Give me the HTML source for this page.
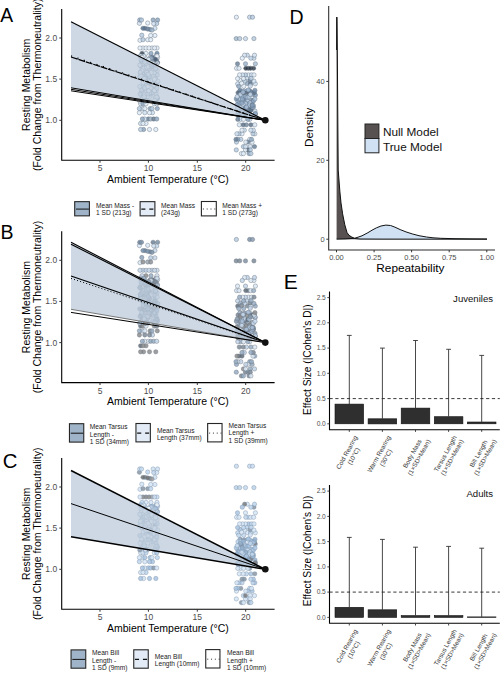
<!DOCTYPE html>
<html><head><meta charset="utf-8"><title>figure</title>
<style>html,body{margin:0;padding:0;background:#fff;width:502px;height:685px;overflow:hidden}svg{display:block}text{font-family:"Liberation Sans", sans-serif}</style>
</head><body><svg width="502" height="685" viewBox="0 0 502 685">
<rect width="502" height="685" fill="#fff"/>
<text x="0.3" y="21.9" font-size="19.3" fill="#000">A</text><text transform="translate(29.5,84.8) rotate(-90)" text-anchor="middle" font-size="10.5" fill="#000">Resting Metabolism</text><text transform="translate(40.9,84.8) rotate(-90)" text-anchor="middle" font-size="10.5" fill="#000">(Fold Change from Thermoneutrality)</text><g stroke="#5d6e82" stroke-width="0.5" stroke-opacity="0.85" fill-opacity="0.85"><circle cx="237.7" cy="83.8" r="2.15" fill="#d0dfee"/><circle cx="239.9" cy="92.7" r="2.15" fill="#8fa9c6"/><circle cx="148.3" cy="119.0" r="2.15" fill="#6d8299"/><circle cx="148.2" cy="84.5" r="2.15" fill="#e2ecf6"/><circle cx="237.9" cy="101.3" r="2.15" fill="#abc2db"/><circle cx="154.3" cy="85.2" r="2.15" fill="#e2ecf6"/><circle cx="241.4" cy="153.6" r="2.15" fill="#e2ecf6"/><circle cx="247.3" cy="55.2" r="2.15" fill="#c8d8e9"/><circle cx="142.1" cy="72.4" r="2.15" fill="#e2ecf6"/><circle cx="248.4" cy="90.5" r="2.15" fill="#7790ad"/><circle cx="141.9" cy="96.3" r="2.15" fill="#f2f6fb"/><circle cx="143.0" cy="48.0" r="2.15" fill="#e4edf7"/><circle cx="248.2" cy="68.3" r="2.15" fill="#333b45"/><circle cx="245.4" cy="99.0" r="2.15" fill="#7790ad"/><circle cx="240.3" cy="90.4" r="2.15" fill="#8fa9c6"/><circle cx="150.1" cy="57.5" r="2.15" fill="#f2f6fb"/><circle cx="141.5" cy="61.5" r="2.15" fill="#9fb3c8"/><circle cx="148.2" cy="65.4" r="2.15" fill="#9fb3c8"/><circle cx="243.4" cy="146.6" r="2.15" fill="#b7cbdf"/><circle cx="246.0" cy="97.4" r="2.15" fill="#8fa9c6"/><circle cx="246.4" cy="124.8" r="2.15" fill="#7d8fa3"/><circle cx="142.1" cy="68.4" r="2.15" fill="#f2f6fb"/><circle cx="237.8" cy="113.6" r="2.15" fill="#abc2db"/><circle cx="254.8" cy="133.8" r="2.15" fill="#e2ecf6"/><circle cx="147.7" cy="39.7" r="2.15" fill="#e2ecf6"/><circle cx="156.3" cy="55.7" r="2.15" fill="#f2f6fb"/><circle cx="149.5" cy="60.5" r="2.15" fill="#7f97b0"/><circle cx="250.3" cy="146.6" r="2.15" fill="#d0dfee"/><circle cx="152.7" cy="99.0" r="2.15" fill="#e2ecf6"/><circle cx="240.1" cy="95.2" r="2.15" fill="#7790ad"/><circle cx="142.4" cy="108.6" r="2.15" fill="#d0dfee"/><circle cx="250.7" cy="115.4" r="2.15" fill="#8fa9c6"/><circle cx="244.3" cy="130.2" r="2.15" fill="#d0dfee"/><circle cx="145.5" cy="78.5" r="2.15" fill="#e2ecf6"/><circle cx="140.6" cy="103.8" r="2.15" fill="#d0dfee"/><circle cx="247.6" cy="100.7" r="2.15" fill="#abc2db"/><circle cx="150.6" cy="94.2" r="2.15" fill="#9fb3c8"/><circle cx="248.6" cy="109.2" r="2.15" fill="#56687c"/><circle cx="247.4" cy="83.5" r="2.15" fill="#93a9c0"/><circle cx="244.6" cy="96.5" r="2.15" fill="#8fa9c6"/><circle cx="154.9" cy="35.5" r="2.15" fill="#e2ecf6"/><circle cx="243.7" cy="86.3" r="2.15" fill="#e2ecf6"/><circle cx="241.0" cy="99.5" r="2.15" fill="#abc2db"/><circle cx="146.0" cy="53.4" r="2.15" fill="#e2ecf6"/><circle cx="236.3" cy="149.9" r="2.15" fill="#b7cbdf"/><circle cx="250.9" cy="124.8" r="2.15" fill="#5f7186"/><circle cx="253.9" cy="38.6" r="2.15" fill="#b9cadc"/><circle cx="156.0" cy="94.0" r="2.15" fill="#f2f6fb"/><circle cx="143.2" cy="87.9" r="2.15" fill="#9fb3c8"/><circle cx="249.9" cy="111.3" r="2.15" fill="#7790ad"/><circle cx="255.3" cy="95.3" r="2.15" fill="#c9daec"/><circle cx="240.2" cy="99.0" r="2.15" fill="#c9daec"/><circle cx="254.5" cy="146.6" r="2.15" fill="#6d8299"/><circle cx="151.0" cy="53.4" r="2.15" fill="#8da5bf"/><circle cx="247.9" cy="149.9" r="2.15" fill="#3c4754"/><circle cx="255.3" cy="83.8" r="2.15" fill="#d0dfee"/><circle cx="255.0" cy="111.1" r="2.15" fill="#c9daec"/><circle cx="146.8" cy="72.4" r="2.15" fill="#e2ecf6"/><circle cx="239.8" cy="90.9" r="2.15" fill="#7790ad"/><circle cx="253.5" cy="107.0" r="2.15" fill="#abc2db"/><circle cx="157.5" cy="62.5" r="2.15" fill="#4e6278"/><circle cx="252.1" cy="142.1" r="2.15" fill="#e2ecf6"/><circle cx="243.2" cy="115.7" r="2.15" fill="#56687c"/><circle cx="142.2" cy="86.6" r="2.15" fill="#cbdaea"/><circle cx="247.8" cy="97.2" r="2.15" fill="#c9daec"/><circle cx="150.1" cy="29.5" r="2.15" fill="#8aa0b8"/><circle cx="150.7" cy="119.0" r="2.15" fill="#a8b8c8"/><circle cx="157.1" cy="70.7" r="2.15" fill="#f2f6fb"/><circle cx="150.1" cy="108.6" r="2.15" fill="#93a9c0"/><circle cx="143.9" cy="59.1" r="2.15" fill="#f2f6fb"/><circle cx="239.1" cy="103.3" r="2.15" fill="#8fa9c6"/><circle cx="246.7" cy="78.0" r="2.15" fill="#d0dfee"/><circle cx="150.7" cy="35.5" r="2.15" fill="#e2ecf6"/><circle cx="240.8" cy="139.4" r="2.15" fill="#b7cbdf"/><circle cx="144.8" cy="108.6" r="2.15" fill="#e2ecf6"/><circle cx="156.1" cy="90.6" r="2.15" fill="#e2ecf6"/><circle cx="154.5" cy="63.5" r="2.15" fill="#5a6f86"/><circle cx="238.0" cy="92.8" r="2.15" fill="#56687d"/><circle cx="245.5" cy="149.9" r="2.15" fill="#e2ecf6"/><circle cx="241.4" cy="107.3" r="2.15" fill="#abc2db"/><circle cx="140.4" cy="65.5" r="2.15" fill="#9fb3c8"/><circle cx="237.8" cy="139.4" r="2.15" fill="#93a9c0"/><circle cx="244.5" cy="103.2" r="2.15" fill="#abc2db"/><circle cx="157.3" cy="108.6" r="2.15" fill="#93a9c0"/><circle cx="139.4" cy="112.7" r="2.15" fill="#e2ecf6"/><circle cx="240.6" cy="119.4" r="2.15" fill="#d0dfee"/><circle cx="139.4" cy="23.3" r="2.15" fill="#d8e4f1"/><circle cx="154.8" cy="76.4" r="2.15" fill="#e2ecf6"/><circle cx="148.4" cy="75.2" r="2.15" fill="#f2f6fb"/><circle cx="156.6" cy="59.3" r="2.15" fill="#9fb3c8"/><circle cx="242.0" cy="133.8" r="2.15" fill="#e2ecf6"/><circle cx="246.0" cy="103.4" r="2.15" fill="#abc2db"/><circle cx="139.4" cy="108.6" r="2.15" fill="#b7cbdf"/><circle cx="147.5" cy="100.4" r="2.15" fill="#f2f6fb"/><circle cx="250.5" cy="110.1" r="2.15" fill="#abc2db"/><circle cx="146.7" cy="84.7" r="2.15" fill="#f2f6fb"/><circle cx="145.8" cy="63.6" r="2.15" fill="#f2f6fb"/><circle cx="154.3" cy="103.8" r="2.15" fill="#d0dfee"/><circle cx="149.7" cy="63.9" r="2.15" fill="#f2f6fb"/><circle cx="153.8" cy="90.6" r="2.15" fill="#e2ecf6"/><circle cx="245.5" cy="146.6" r="2.15" fill="#d0dfee"/><circle cx="241.5" cy="96.5" r="2.15" fill="#abc2db"/><circle cx="140.6" cy="72.5" r="2.15" fill="#9fb3c8"/><circle cx="157.3" cy="63.2" r="2.15" fill="#e2ecf6"/><circle cx="249.7" cy="119.4" r="2.15" fill="#d0dfee"/><circle cx="147.1" cy="87.8" r="2.15" fill="#cbdaea"/><circle cx="240.1" cy="80.5" r="2.15" fill="#e2ecf6"/><circle cx="150.7" cy="70.4" r="2.15" fill="#f2f6fb"/><circle cx="157.6" cy="20.0" r="2.15" fill="#93a9c0"/><circle cx="240.5" cy="111.5" r="2.15" fill="#7790ad"/><circle cx="246.4" cy="107.6" r="2.15" fill="#abc2db"/><circle cx="248.5" cy="74.9" r="2.15" fill="#e2ecf6"/><circle cx="241.1" cy="92.2" r="2.15" fill="#8fa9c6"/><circle cx="237.8" cy="119.4" r="2.15" fill="#6d8299"/><circle cx="252.0" cy="100.4" r="2.15" fill="#c9daec"/><circle cx="250.5" cy="84.0" r="2.15" fill="#6d8299"/><circle cx="153.1" cy="70.5" r="2.15" fill="#cbdaea"/><circle cx="144.8" cy="119.0" r="2.15" fill="#d0dfee"/><circle cx="155.6" cy="88.5" r="2.15" fill="#e2ecf6"/><circle cx="145.4" cy="95.0" r="2.15" fill="#f2f6fb"/><circle cx="245.5" cy="63.8" r="2.15" fill="#9fb4ca"/><circle cx="250.1" cy="80.6" r="2.15" fill="#6d8299"/><circle cx="157.0" cy="85.0" r="2.15" fill="#f2f6fb"/><circle cx="156.9" cy="96.9" r="2.15" fill="#e2ecf6"/><circle cx="244.6" cy="55.2" r="2.15" fill="#d5e2ef"/><circle cx="245.5" cy="109.8" r="2.15" fill="#7790ad"/><circle cx="154.9" cy="28.3" r="2.15" fill="#d0dfee"/><circle cx="155.4" cy="57.4" r="2.15" fill="#f2f6fb"/><circle cx="141.1" cy="56.1" r="2.15" fill="#f2f6fb"/><circle cx="153.7" cy="119.0" r="2.15" fill="#6f7f90"/><circle cx="250.4" cy="92.8" r="2.15" fill="#c9daec"/><circle cx="243.2" cy="104.8" r="2.15" fill="#c9daec"/><circle cx="154.1" cy="84.6" r="2.15" fill="#e2ecf6"/><circle cx="247.9" cy="119.4" r="2.15" fill="#93a9c0"/><circle cx="152.5" cy="112.7" r="2.15" fill="#d0dfee"/><circle cx="154.4" cy="81.2" r="2.15" fill="#f2f6fb"/><circle cx="250.0" cy="103.0" r="2.15" fill="#7790ad"/><circle cx="140.0" cy="40.3" r="2.15" fill="#e2ecf6"/><circle cx="237.6" cy="107.8" r="2.15" fill="#c9daec"/><circle cx="157.6" cy="57.2" r="2.15" fill="#f2f6fb"/><circle cx="237.7" cy="115.2" r="2.15" fill="#abc2db"/><circle cx="149.5" cy="112.7" r="2.15" fill="#e2ecf6"/><circle cx="148.5" cy="66.7" r="2.15" fill="#f2f6fb"/><circle cx="154.6" cy="63.4" r="2.15" fill="#f2f6fb"/><circle cx="244.3" cy="90.9" r="2.15" fill="#8fa9c6"/><circle cx="155.7" cy="61.8" r="2.15" fill="#f2f6fb"/><circle cx="244.0" cy="92.8" r="2.15" fill="#5a6c81"/><circle cx="157.2" cy="74.8" r="2.15" fill="#cbdaea"/><circle cx="156.1" cy="83.0" r="2.15" fill="#9fb3c8"/><circle cx="154.2" cy="63.2" r="2.15" fill="#e2ecf6"/><circle cx="241.0" cy="92.8" r="2.15" fill="#4e6076"/><circle cx="140.6" cy="123.5" r="2.15" fill="#d0dfee"/><circle cx="254.2" cy="92.3" r="2.15" fill="#c9daec"/><circle cx="150.7" cy="39.7" r="2.15" fill="#e2ecf6"/><circle cx="249.7" cy="139.4" r="2.15" fill="#e2ecf6"/><circle cx="252.7" cy="100.5" r="2.15" fill="#7790ad"/><circle cx="145.4" cy="92.7" r="2.15" fill="#e2ecf6"/><circle cx="251.0" cy="92.8" r="2.15" fill="#56687d"/><circle cx="250.1" cy="102.9" r="2.15" fill="#c9daec"/><circle cx="150.0" cy="59.1" r="2.15" fill="#e2ecf6"/><circle cx="146.8" cy="66.8" r="2.15" fill="#e2ecf6"/><circle cx="156.7" cy="23.6" r="2.15" fill="#b7cbdf"/><circle cx="237.5" cy="63.8" r="2.15" fill="#6f8399"/><circle cx="252.3" cy="105.5" r="2.15" fill="#56687c"/><circle cx="146.0" cy="123.5" r="2.15" fill="#e2ecf6"/><circle cx="141.3" cy="92.7" r="2.15" fill="#e2ecf6"/><circle cx="245.5" cy="74.9" r="2.15" fill="#b7cbdf"/><circle cx="143.6" cy="129.5" r="2.15" fill="#93a9c0"/><circle cx="236.5" cy="142.1" r="2.15" fill="#b7cbdf"/><circle cx="149.9" cy="59.5" r="2.15" fill="#e2ecf6"/><circle cx="244.8" cy="81.1" r="2.15" fill="#b7cbdf"/><circle cx="249.9" cy="90.9" r="2.15" fill="#7790ad"/><circle cx="147.6" cy="96.3" r="2.15" fill="#f2f6fb"/><circle cx="142.4" cy="79.0" r="2.15" fill="#e2ecf6"/><circle cx="153.1" cy="20.0" r="2.15" fill="#93a9c0"/><circle cx="147.4" cy="100.9" r="2.15" fill="#cbdaea"/><circle cx="154.3" cy="82.2" r="2.15" fill="#e2ecf6"/><circle cx="236.6" cy="68.3" r="2.15" fill="#e0eaf4"/><circle cx="140.2" cy="56.3" r="2.15" fill="#cbdaea"/><circle cx="146.5" cy="65.5" r="2.15" fill="#e2ecf6"/><circle cx="144.8" cy="112.7" r="2.15" fill="#d0dfee"/><circle cx="143.5" cy="82.3" r="2.15" fill="#f2f6fb"/><circle cx="149.5" cy="76.2" r="2.15" fill="#e2ecf6"/><circle cx="253.4" cy="101.1" r="2.15" fill="#8fa9c6"/><circle cx="250.6" cy="68.3" r="2.15" fill="#2e3640"/><circle cx="254.9" cy="94.6" r="2.15" fill="#8fa9c6"/><circle cx="142.0" cy="53.4" r="2.15" fill="#3c4754"/><circle cx="142.5" cy="92.7" r="2.15" fill="#cbdaea"/><circle cx="148.4" cy="68.8" r="2.15" fill="#e2ecf6"/><circle cx="150.7" cy="86.6" r="2.15" fill="#f2f6fb"/><circle cx="239.0" cy="68.3" r="2.15" fill="#e0eaf4"/><circle cx="253.9" cy="81.1" r="2.15" fill="#d0dfee"/><circle cx="139.8" cy="86.6" r="2.15" fill="#e2ecf6"/><circle cx="238.7" cy="86.3" r="2.15" fill="#93a9c0"/><circle cx="145.1" cy="58.0" r="2.15" fill="#f2f6fb"/><circle cx="140.1" cy="94.1" r="2.15" fill="#cbdaea"/><circle cx="249.6" cy="17.2" r="2.15" fill="#c5d5e6"/><circle cx="145.0" cy="28.3" r="2.15" fill="#5a6f88"/><circle cx="148.1" cy="80.7" r="2.15" fill="#e2ecf6"/><circle cx="143.0" cy="123.5" r="2.15" fill="#e2ecf6"/><circle cx="247.5" cy="92.8" r="2.15" fill="#4e6076"/><circle cx="253.9" cy="58.2" r="2.15" fill="#c8d8e9"/><circle cx="251.5" cy="74.9" r="2.15" fill="#d0dfee"/><circle cx="247.9" cy="142.1" r="2.15" fill="#6d8299"/><circle cx="142.0" cy="99.2" r="2.15" fill="#f2f6fb"/><circle cx="155.2" cy="79.0" r="2.15" fill="#f2f6fb"/><circle cx="140.0" cy="48.0" r="2.15" fill="#e8f0f8"/><circle cx="154.2" cy="72.7" r="2.15" fill="#e2ecf6"/><circle cx="254.0" cy="74.9" r="2.15" fill="#e2ecf6"/><circle cx="240.4" cy="94.5" r="2.15" fill="#c9daec"/><circle cx="152.9" cy="92.7" r="2.15" fill="#cbdaea"/><circle cx="239.0" cy="133.8" r="2.15" fill="#b7cbdf"/><circle cx="245.8" cy="68.3" r="2.15" fill="#2e3640"/><circle cx="236.3" cy="98.9" r="2.15" fill="#7790ad"/><circle cx="154.8" cy="90.8" r="2.15" fill="#f2f6fb"/><circle cx="236.9" cy="104.8" r="2.15" fill="#8fa9c6"/><circle cx="241.6" cy="83.2" r="2.15" fill="#e2ecf6"/><circle cx="249.6" cy="104.9" r="2.15" fill="#abc2db"/><circle cx="156.7" cy="119.0" r="2.15" fill="#93a9c0"/><circle cx="157.0" cy="48.0" r="2.15" fill="#e8f0f8"/><circle cx="157.1" cy="98.8" r="2.15" fill="#cbdaea"/><circle cx="255.4" cy="114.1" r="2.15" fill="#abc2db"/><circle cx="250.3" cy="85.9" r="2.15" fill="#d0dfee"/><circle cx="151.2" cy="72.4" r="2.15" fill="#f2f6fb"/><circle cx="237.6" cy="78.6" r="2.15" fill="#e2ecf6"/><circle cx="155.4" cy="78.9" r="2.15" fill="#e2ecf6"/><circle cx="251.5" cy="139.4" r="2.15" fill="#93a9c0"/><circle cx="245.4" cy="107.7" r="2.15" fill="#7790ad"/><circle cx="143.0" cy="39.7" r="2.15" fill="#b7cbdf"/><circle cx="251.0" cy="109.8" r="2.15" fill="#56687c"/><circle cx="146.3" cy="74.9" r="2.15" fill="#f2f6fb"/><circle cx="143.1" cy="82.8" r="2.15" fill="#f2f6fb"/><circle cx="142.3" cy="72.7" r="2.15" fill="#e2ecf6"/><circle cx="139.7" cy="100.9" r="2.15" fill="#f2f6fb"/><circle cx="242.0" cy="130.2" r="2.15" fill="#e2ecf6"/><circle cx="143.8" cy="96.3" r="2.15" fill="#f2f6fb"/><circle cx="149.7" cy="93.0" r="2.15" fill="#e2ecf6"/><circle cx="155.8" cy="69.2" r="2.15" fill="#e2ecf6"/><circle cx="143.0" cy="28.3" r="2.15" fill="#5d7590"/><circle cx="152.5" cy="57.5" r="2.15" fill="#50657c"/><circle cx="147.7" cy="23.0" r="2.15" fill="#e4edf7"/><circle cx="242.1" cy="100.9" r="2.15" fill="#abc2db"/><circle cx="236.4" cy="17.2" r="2.15" fill="#dfe9f4"/><circle cx="254.5" cy="55.2" r="2.15" fill="#d5e2ef"/><circle cx="141.1" cy="59.6" r="2.15" fill="#cbdaea"/><circle cx="243.5" cy="119.4" r="2.15" fill="#e2ecf6"/><circle cx="253.0" cy="133.8" r="2.15" fill="#b7cbdf"/><circle cx="141.6" cy="70.9" r="2.15" fill="#e2ecf6"/><circle cx="151.4" cy="88.2" r="2.15" fill="#f2f6fb"/><circle cx="144.7" cy="67.3" r="2.15" fill="#cbdaea"/><circle cx="243.4" cy="153.6" r="2.15" fill="#e2ecf6"/><circle cx="149.5" cy="129.5" r="2.15" fill="#e2ecf6"/><circle cx="253.6" cy="68.3" r="2.15" fill="#3a434e"/><circle cx="140.9" cy="55.9" r="2.15" fill="#f2f6fb"/><circle cx="146.0" cy="48.0" r="2.15" fill="#e8f0f8"/><circle cx="143.6" cy="68.5" r="2.15" fill="#f2f6fb"/><circle cx="155.8" cy="129.5" r="2.15" fill="#e2ecf6"/><circle cx="253.4" cy="105.4" r="2.15" fill="#c9daec"/><circle cx="154.3" cy="80.7" r="2.15" fill="#e2ecf6"/><circle cx="253.3" cy="130.2" r="2.15" fill="#d0dfee"/><circle cx="157.0" cy="53.4" r="2.15" fill="#6f87a2"/><circle cx="245.8" cy="109.5" r="2.15" fill="#8fa9c6"/><circle cx="149.3" cy="79.0" r="2.15" fill="#cbdaea"/><circle cx="245.6" cy="111.5" r="2.15" fill="#56687c"/><circle cx="147.1" cy="68.6" r="2.15" fill="#e2ecf6"/><circle cx="245.8" cy="142.1" r="2.15" fill="#e2ecf6"/><circle cx="156.1" cy="98.5" r="2.15" fill="#e2ecf6"/><circle cx="236.2" cy="38.6" r="2.15" fill="#a5b8cc"/><circle cx="147.7" cy="29.0" r="2.15" fill="#6c839c"/><circle cx="146.7" cy="67.4" r="2.15" fill="#e2ecf6"/><circle cx="139.7" cy="77.2" r="2.15" fill="#e2ecf6"/><circle cx="144.5" cy="94.5" r="2.15" fill="#f2f6fb"/><circle cx="248.2" cy="90.0" r="2.15" fill="#abc2db"/><circle cx="148.2" cy="87.0" r="2.15" fill="#f2f6fb"/><circle cx="250.3" cy="149.9" r="2.15" fill="#b7cbdf"/><circle cx="243.0" cy="92.2" r="2.15" fill="#abc2db"/><circle cx="153.5" cy="61.3" r="2.15" fill="#e2ecf6"/><circle cx="152.0" cy="108.6" r="2.15" fill="#b7cbdf"/><circle cx="140.6" cy="74.4" r="2.15" fill="#f2f6fb"/><circle cx="154.7" cy="65.1" r="2.15" fill="#cbdaea"/><circle cx="249.1" cy="153.6" r="2.15" fill="#93a9c0"/><circle cx="141.6" cy="57.4" r="2.15" fill="#f2f6fb"/><circle cx="242.3" cy="58.2" r="2.15" fill="#e0eaf4"/><circle cx="252.4" cy="94.3" r="2.15" fill="#8fa9c6"/><circle cx="150.3" cy="87.9" r="2.15" fill="#f2f6fb"/><circle cx="242.6" cy="74.9" r="2.15" fill="#d0dfee"/><circle cx="142.0" cy="70.6" r="2.15" fill="#e2ecf6"/><circle cx="252.0" cy="92.6" r="2.15" fill="#7790ad"/><circle cx="250.9" cy="130.2" r="2.15" fill="#d0dfee"/><circle cx="236.9" cy="133.8" r="2.15" fill="#d0dfee"/><circle cx="155.5" cy="68.5" r="2.15" fill="#cbdaea"/><circle cx="143.0" cy="103.8" r="2.15" fill="#93a9c0"/><circle cx="153.8" cy="59.4" r="2.15" fill="#9fb3c8"/><circle cx="150.0" cy="61.6" r="2.15" fill="#e2ecf6"/><circle cx="252.5" cy="107.1" r="2.15" fill="#8fa9c6"/><circle cx="252.3" cy="105.3" r="2.15" fill="#c9daec"/><circle cx="251.1" cy="78.4" r="2.15" fill="#b7cbdf"/><circle cx="239.3" cy="124.8" r="2.15" fill="#dce7f2"/><circle cx="255.4" cy="113.7" r="2.15" fill="#8fa9c6"/><circle cx="140.3" cy="72.3" r="2.15" fill="#e2ecf6"/><circle cx="242.3" cy="113.2" r="2.15" fill="#c9daec"/><circle cx="149.2" cy="76.4" r="2.15" fill="#cbdaea"/><circle cx="145.7" cy="76.5" r="2.15" fill="#9fb3c8"/><circle cx="148.3" cy="82.8" r="2.15" fill="#9fb3c8"/><circle cx="157.8" cy="81.3" r="2.15" fill="#e2ecf6"/><circle cx="141.7" cy="90.1" r="2.15" fill="#cbdaea"/><circle cx="239.7" cy="38.6" r="2.15" fill="#b9cadc"/><circle cx="254.0" cy="92.8" r="2.15" fill="#62748a"/><circle cx="144.7" cy="62.1" r="2.15" fill="#cbdaea"/><circle cx="157.0" cy="55.9" r="2.15" fill="#f2f6fb"/><circle cx="237.2" cy="96.7" r="2.15" fill="#c9daec"/><circle cx="249.1" cy="96.9" r="2.15" fill="#abc2db"/><circle cx="238.5" cy="115.5" r="2.15" fill="#8fa9c6"/><circle cx="241.8" cy="103.1" r="2.15" fill="#8fa9c6"/><circle cx="143.8" cy="56.1" r="2.15" fill="#e2ecf6"/><circle cx="250.3" cy="94.4" r="2.15" fill="#c9daec"/><circle cx="245.4" cy="113.4" r="2.15" fill="#7790ad"/><circle cx="252.5" cy="17.2" r="2.15" fill="#b9cbde"/><circle cx="152.0" cy="48.0" r="2.15" fill="#e8f0f8"/><circle cx="156.7" cy="103.8" r="2.15" fill="#e2ecf6"/><circle cx="148.6" cy="66.7" r="2.15" fill="#f2f6fb"/><circle cx="250.9" cy="153.6" r="2.15" fill="#b7cbdf"/><circle cx="243.6" cy="78.6" r="2.15" fill="#e2ecf6"/><circle cx="145.3" cy="101.1" r="2.15" fill="#f2f6fb"/><circle cx="255.0" cy="99.0" r="2.15" fill="#abc2db"/><circle cx="141.8" cy="35.2" r="2.15" fill="#b7cbdf"/><circle cx="252.2" cy="105.3" r="2.15" fill="#7790ad"/><circle cx="144.2" cy="96.8" r="2.15" fill="#e2ecf6"/><circle cx="151.4" cy="65.8" r="2.15" fill="#9fb3c8"/><circle cx="248.2" cy="111.2" r="2.15" fill="#abc2db"/><circle cx="236.0" cy="139.4" r="2.15" fill="#6d8299"/><circle cx="255.4" cy="63.8" r="2.15" fill="#aabed2"/><circle cx="144.2" cy="78.6" r="2.15" fill="#f2f6fb"/><circle cx="148.2" cy="74.3" r="2.15" fill="#e2ecf6"/><circle cx="142.0" cy="57.3" r="2.15" fill="#f2f6fb"/><circle cx="242.2" cy="98.9" r="2.15" fill="#8fa9c6"/><circle cx="150.6" cy="80.8" r="2.15" fill="#e2ecf6"/><circle cx="154.6" cy="48.0" r="2.15" fill="#e4edf7"/><circle cx="142.4" cy="119.0" r="2.15" fill="#93a9c0"/><circle cx="148.5" cy="81.2" r="2.15" fill="#e2ecf6"/><circle cx="149.0" cy="48.0" r="2.15" fill="#e4edf7"/><circle cx="154.5" cy="79.2" r="2.15" fill="#f2f6fb"/><circle cx="250.9" cy="58.2" r="2.15" fill="#c0d2e5"/><circle cx="147.8" cy="94.0" r="2.15" fill="#cbdaea"/><circle cx="146.0" cy="103.8" r="2.15" fill="#e2ecf6"/><circle cx="254.9" cy="90.3" r="2.15" fill="#7790ad"/><circle cx="157.4" cy="98.6" r="2.15" fill="#9fb3c8"/><circle cx="248.4" cy="115.4" r="2.15" fill="#abc2db"/><circle cx="155.5" cy="59.5" r="2.15" fill="#45586d"/><circle cx="155.7" cy="97.2" r="2.15" fill="#f2f6fb"/><circle cx="140.9" cy="76.3" r="2.15" fill="#e2ecf6"/><circle cx="145.8" cy="81.5" r="2.15" fill="#e2ecf6"/><circle cx="153.7" cy="23.6" r="2.15" fill="#d0dfee"/><circle cx="139.7" cy="65.2" r="2.15" fill="#f2f6fb"/><circle cx="248.8" cy="111.7" r="2.15" fill="#56687c"/><circle cx="145.6" cy="100.5" r="2.15" fill="#e2ecf6"/><circle cx="154.5" cy="90.5" r="2.15" fill="#f2f6fb"/><circle cx="156.8" cy="88.1" r="2.15" fill="#cbdaea"/><circle cx="139.7" cy="20.0" r="2.15" fill="#9fb4ca"/><circle cx="144.8" cy="87.9" r="2.15" fill="#e2ecf6"/><circle cx="140.6" cy="129.5" r="2.15" fill="#b7cbdf"/><circle cx="148.0" cy="86.7" r="2.15" fill="#f2f6fb"/><circle cx="156.9" cy="97.1" r="2.15" fill="#e2ecf6"/><circle cx="148.8" cy="90.8" r="2.15" fill="#f2f6fb"/><circle cx="245.5" cy="38.6" r="2.15" fill="#c9d7e6"/><circle cx="151.0" cy="58.1" r="2.15" fill="#9fb3c8"/><circle cx="153.9" cy="85.0" r="2.15" fill="#f2f6fb"/><circle cx="145.5" cy="101.0" r="2.15" fill="#e2ecf6"/><circle cx="239.6" cy="74.9" r="2.15" fill="#e2ecf6"/><circle cx="246.5" cy="107.1" r="2.15" fill="#abc2db"/><circle cx="254.8" cy="124.8" r="2.15" fill="#dce7f2"/><circle cx="141.5" cy="20.0" r="2.15" fill="#b5c8dc"/><circle cx="148.6" cy="59.4" r="2.15" fill="#e2ecf6"/><circle cx="152.0" cy="30.1" r="2.15" fill="#9db2c8"/><circle cx="154.9" cy="100.5" r="2.15" fill="#f2f6fb"/><circle cx="243.2" cy="124.8" r="2.15" fill="#5f7186"/></g><polygon points="71,21.7 265.3,120.3 71,88" fill="#bccbdb" fill-opacity="0.75"/><path d="M71 21.7 L265.3 120.3" stroke="#000" stroke-width="1.2" fill="none"/><path d="M71 57.0 L265.3 120.3" stroke="#000" stroke-width="1.2" fill="none" stroke-dasharray="7 0.8"/><path d="M71 55.9 L265.3 120.3" stroke="#000" stroke-width="1.2" fill="none" stroke-dasharray="1.2 5.5"/><path d="M71 87.8 L265.3 120.3" stroke="#000" stroke-width="1.0" fill="none"/><path d="M71 89.3 L265.3 120.3" stroke="#000" stroke-width="1.0" fill="none"/><path d="M71 90.8 L265.3 120.3" stroke="#000" stroke-width="1.0" fill="none"/><circle cx="265.3" cy="120.3" r="3.3" fill="#111"/><path d="M61.7 9.0 V160.3 H274.6" fill="none" stroke="#000" stroke-width="1.1"/><path d="M59.3 38.0 H61.7" stroke="#333" stroke-width="1"/><text x="57.2" y="41.0" text-anchor="end" font-size="8.5" fill="#4d4d4d">2.0</text><path d="M59.3 79.1 H61.7" stroke="#333" stroke-width="1"/><text x="57.2" y="82.1" text-anchor="end" font-size="8.5" fill="#4d4d4d">1.5</text><path d="M59.3 120.3 H61.7" stroke="#333" stroke-width="1"/><text x="57.2" y="123.3" text-anchor="end" font-size="8.5" fill="#4d4d4d">1.0</text><path d="M100 160.3 V162.7" stroke="#333" stroke-width="1"/><text x="100" y="171.3" text-anchor="middle" font-size="8.5" fill="#4d4d4d">5</text><path d="M148.4 160.3 V162.7" stroke="#333" stroke-width="1"/><text x="148.4" y="171.3" text-anchor="middle" font-size="8.5" fill="#4d4d4d">10</text><path d="M197.3 160.3 V162.7" stroke="#333" stroke-width="1"/><text x="197.3" y="171.3" text-anchor="middle" font-size="8.5" fill="#4d4d4d">15</text><path d="M245.7 160.3 V162.7" stroke="#333" stroke-width="1"/><text x="245.7" y="171.3" text-anchor="middle" font-size="8.5" fill="#4d4d4d">20</text><text x="167.9" y="182.7" text-anchor="middle" font-size="10.5" fill="#000">Ambient Temperature (°C)</text><rect x="74.7" y="201.65" width="14.7" height="14.2" fill="#a0b4c9" stroke="#262626" stroke-width="1.1"/><path d="M76.0 209.1 H88.9" stroke="#111" stroke-width="1.0"/><text font-size="6.6" fill="#1a1a1a"><tspan x="96" y="208.1">Mean Mass -</tspan><tspan x="96" y="215.4">1 SD (213g)</tspan></text><rect x="140.1" y="201.65" width="14.8" height="14.2" fill="#e3ecf6" stroke="#262626" stroke-width="1.1"/><path d="M141.29999999999998 209.1 H153.70000000000002" stroke="#111" stroke-width="1.2" stroke-dasharray="4.1 3.9"/><text font-size="6.6" fill="#1a1a1a"><tspan x="161" y="208.1">Mean Mass</tspan><tspan x="161" y="215.4">(243g)</tspan></text><rect x="201.4" y="201.5" width="14.9" height="14.4" fill="#ffffff" stroke="#262626" stroke-width="1.1"/><path d="M202.9 209.0 H216.3" stroke="#333" stroke-width="1.0" stroke-dasharray="1 2.8"/><text font-size="6.6" fill="#1a1a1a"><tspan x="222.3" y="208.1">Mean Mass +</tspan><tspan x="222.3" y="215.4">1 SD (273g)</tspan></text><text x="0.5" y="238.9" font-size="19.5" fill="#000">B</text><text transform="translate(29.5,307.1) rotate(-90)" text-anchor="middle" font-size="10.5" fill="#000">Resting Metabolism</text><text transform="translate(40.9,307.1) rotate(-90)" text-anchor="middle" font-size="10.5" fill="#000">(Fold Change from Thermoneutrality)</text><g stroke="#66727f" stroke-width="0.5" stroke-opacity="0.85" fill-opacity="0.85"><circle cx="237.7" cy="306.1" r="2.15" fill="#5f6b78"/><circle cx="239.9" cy="315.0" r="2.15" fill="#c9dbee"/><circle cx="148.3" cy="341.3" r="2.15" fill="#dbe7f3"/><circle cx="148.2" cy="306.8" r="2.15" fill="#8d8d8d"/><circle cx="237.9" cy="323.6" r="2.15" fill="#c9dbee"/><circle cx="154.3" cy="307.5" r="2.15" fill="#d3e1ef"/><circle cx="241.4" cy="375.9" r="2.15" fill="#7f8b97"/><circle cx="247.3" cy="277.5" r="2.15" fill="#c3d5e8"/><circle cx="142.1" cy="294.7" r="2.15" fill="#8fa0b2"/><circle cx="248.4" cy="312.8" r="2.15" fill="#c9dbee"/><circle cx="141.9" cy="318.6" r="2.15" fill="#8d8d8d"/><circle cx="143.0" cy="270.3" r="2.15" fill="#bcd0e6"/><circle cx="248.2" cy="290.6" r="2.15" fill="#7f8b97"/><circle cx="245.4" cy="321.3" r="2.15" fill="#5f6b78"/><circle cx="240.3" cy="312.7" r="2.15" fill="#8b9cae"/><circle cx="150.1" cy="279.8" r="2.15" fill="#8d8d8d"/><circle cx="141.5" cy="283.8" r="2.15" fill="#9fb5cc"/><circle cx="148.2" cy="287.7" r="2.15" fill="#d3e1ef"/><circle cx="243.4" cy="368.9" r="2.15" fill="#8d8d8d"/><circle cx="246.0" cy="319.7" r="2.15" fill="#8b9cae"/><circle cx="246.4" cy="347.1" r="2.15" fill="#c3d5e8"/><circle cx="142.1" cy="290.7" r="2.15" fill="#b9cce0"/><circle cx="237.8" cy="335.9" r="2.15" fill="#8d8d8d"/><circle cx="254.8" cy="356.1" r="2.15" fill="#98adc3"/><circle cx="147.7" cy="262.0" r="2.15" fill="#a0a8b0"/><circle cx="156.3" cy="278.0" r="2.15" fill="#8fa0b2"/><circle cx="149.5" cy="282.8" r="2.15" fill="#5f6b78"/><circle cx="250.3" cy="368.9" r="2.15" fill="#98adc3"/><circle cx="152.7" cy="321.3" r="2.15" fill="#9fb5cc"/><circle cx="240.1" cy="317.5" r="2.15" fill="#8b9cae"/><circle cx="142.4" cy="330.9" r="2.15" fill="#c3d5e8"/><circle cx="250.7" cy="337.7" r="2.15" fill="#5f6b78"/><circle cx="244.3" cy="352.5" r="2.15" fill="#c3d5e8"/><circle cx="145.5" cy="300.8" r="2.15" fill="#8fa0b2"/><circle cx="140.6" cy="326.1" r="2.15" fill="#5f6b78"/><circle cx="247.6" cy="323.0" r="2.15" fill="#8b9cae"/><circle cx="150.6" cy="316.5" r="2.15" fill="#d3e1ef"/><circle cx="248.6" cy="331.5" r="2.15" fill="#8d8d8d"/><circle cx="247.4" cy="305.8" r="2.15" fill="#7f8b97"/><circle cx="244.6" cy="318.8" r="2.15" fill="#c9dbee"/><circle cx="154.9" cy="257.8" r="2.15" fill="#c8d8e8"/><circle cx="243.7" cy="308.6" r="2.15" fill="#98adc3"/><circle cx="241.0" cy="321.8" r="2.15" fill="#c9dbee"/><circle cx="146.0" cy="275.7" r="2.15" fill="#8d8d8d"/><circle cx="236.3" cy="372.2" r="2.15" fill="#98adc3"/><circle cx="250.9" cy="347.1" r="2.15" fill="#98adc3"/><circle cx="253.9" cy="260.9" r="2.15" fill="#7f8b97"/><circle cx="156.0" cy="316.3" r="2.15" fill="#9fb5cc"/><circle cx="143.2" cy="310.2" r="2.15" fill="#8d8d8d"/><circle cx="249.9" cy="333.6" r="2.15" fill="#a9c0d8"/><circle cx="255.3" cy="317.6" r="2.15" fill="#a9c0d8"/><circle cx="240.2" cy="321.3" r="2.15" fill="#8b9cae"/><circle cx="254.5" cy="368.9" r="2.15" fill="#c3d5e8"/><circle cx="151.0" cy="275.7" r="2.15" fill="#98adc3"/><circle cx="247.9" cy="372.2" r="2.15" fill="#98adc3"/><circle cx="255.3" cy="306.1" r="2.15" fill="#98adc3"/><circle cx="255.0" cy="333.4" r="2.15" fill="#8b9cae"/><circle cx="146.8" cy="294.7" r="2.15" fill="#9fb5cc"/><circle cx="239.8" cy="313.2" r="2.15" fill="#c9dbee"/><circle cx="253.5" cy="329.3" r="2.15" fill="#5f6b78"/><circle cx="157.5" cy="284.8" r="2.15" fill="#c3d5e8"/><circle cx="252.1" cy="364.4" r="2.15" fill="#98adc3"/><circle cx="243.2" cy="338.0" r="2.15" fill="#a9c0d8"/><circle cx="142.2" cy="308.9" r="2.15" fill="#8d8d8d"/><circle cx="247.8" cy="319.5" r="2.15" fill="#5f6b78"/><circle cx="150.1" cy="251.8" r="2.15" fill="#6f87a0"/><circle cx="150.7" cy="341.3" r="2.15" fill="#98adc3"/><circle cx="157.1" cy="293.0" r="2.15" fill="#d3e1ef"/><circle cx="150.1" cy="330.9" r="2.15" fill="#8d8d8d"/><circle cx="143.9" cy="281.4" r="2.15" fill="#d3e1ef"/><circle cx="239.1" cy="325.6" r="2.15" fill="#8b9cae"/><circle cx="246.7" cy="300.3" r="2.15" fill="#c3d5e8"/><circle cx="150.7" cy="257.8" r="2.15" fill="#b8cbe0"/><circle cx="240.8" cy="361.7" r="2.15" fill="#c3d5e8"/><circle cx="144.8" cy="330.9" r="2.15" fill="#dbe7f3"/><circle cx="156.1" cy="312.9" r="2.15" fill="#d3e1ef"/><circle cx="154.5" cy="285.8" r="2.15" fill="#98adc3"/><circle cx="238.0" cy="315.1" r="2.15" fill="#7f8b97"/><circle cx="245.5" cy="372.2" r="2.15" fill="#7f8b97"/><circle cx="241.4" cy="329.6" r="2.15" fill="#c9dbee"/><circle cx="140.4" cy="287.8" r="2.15" fill="#9fb5cc"/><circle cx="237.8" cy="361.7" r="2.15" fill="#dbe7f3"/><circle cx="244.5" cy="325.5" r="2.15" fill="#a9c0d8"/><circle cx="157.3" cy="330.9" r="2.15" fill="#8d8d8d"/><circle cx="139.4" cy="335.0" r="2.15" fill="#8d8d8d"/><circle cx="240.6" cy="341.7" r="2.15" fill="#98adc3"/><circle cx="139.4" cy="245.6" r="2.15" fill="#d8e6f4"/><circle cx="154.8" cy="298.7" r="2.15" fill="#9fb5cc"/><circle cx="148.4" cy="297.5" r="2.15" fill="#9fb5cc"/><circle cx="156.6" cy="281.6" r="2.15" fill="#9fb5cc"/><circle cx="242.0" cy="356.1" r="2.15" fill="#5f6b78"/><circle cx="246.0" cy="325.7" r="2.15" fill="#8d8d8d"/><circle cx="139.4" cy="330.9" r="2.15" fill="#98adc3"/><circle cx="147.5" cy="322.7" r="2.15" fill="#9fb5cc"/><circle cx="250.5" cy="332.4" r="2.15" fill="#8b9cae"/><circle cx="146.7" cy="307.0" r="2.15" fill="#b9cce0"/><circle cx="145.8" cy="285.9" r="2.15" fill="#8fa0b2"/><circle cx="154.3" cy="326.1" r="2.15" fill="#8d8d8d"/><circle cx="149.7" cy="286.2" r="2.15" fill="#9fb5cc"/><circle cx="153.8" cy="312.9" r="2.15" fill="#8d8d8d"/><circle cx="245.5" cy="368.9" r="2.15" fill="#dbe7f3"/><circle cx="241.5" cy="318.8" r="2.15" fill="#a9c0d8"/><circle cx="140.6" cy="294.8" r="2.15" fill="#9fb5cc"/><circle cx="157.3" cy="285.5" r="2.15" fill="#b9cce0"/><circle cx="249.7" cy="341.7" r="2.15" fill="#dbe7f3"/><circle cx="147.1" cy="310.1" r="2.15" fill="#9fb5cc"/><circle cx="240.1" cy="302.8" r="2.15" fill="#98adc3"/><circle cx="150.7" cy="292.7" r="2.15" fill="#b9cce0"/><circle cx="157.6" cy="242.3" r="2.15" fill="#7d90a5"/><circle cx="240.5" cy="333.8" r="2.15" fill="#5f6b78"/><circle cx="246.4" cy="329.9" r="2.15" fill="#a9c0d8"/><circle cx="248.5" cy="297.2" r="2.15" fill="#dbe7f3"/><circle cx="241.1" cy="314.5" r="2.15" fill="#c9dbee"/><circle cx="237.8" cy="341.7" r="2.15" fill="#c3d5e8"/><circle cx="252.0" cy="322.7" r="2.15" fill="#8d8d8d"/><circle cx="250.5" cy="306.3" r="2.15" fill="#dbe7f3"/><circle cx="153.1" cy="292.8" r="2.15" fill="#b9cce0"/><circle cx="144.8" cy="341.3" r="2.15" fill="#dbe7f3"/><circle cx="155.6" cy="310.8" r="2.15" fill="#9fb5cc"/><circle cx="145.4" cy="317.3" r="2.15" fill="#b9cce0"/><circle cx="245.5" cy="286.1" r="2.15" fill="#c3d5e8"/><circle cx="250.1" cy="302.9" r="2.15" fill="#7f8b97"/><circle cx="157.0" cy="307.3" r="2.15" fill="#8d8d8d"/><circle cx="156.9" cy="319.2" r="2.15" fill="#8fa0b2"/><circle cx="244.6" cy="277.5" r="2.15" fill="#dbe7f3"/><circle cx="245.5" cy="332.1" r="2.15" fill="#a9c0d8"/><circle cx="154.9" cy="250.6" r="2.15" fill="#c8d8e8"/><circle cx="155.4" cy="279.7" r="2.15" fill="#d3e1ef"/><circle cx="141.1" cy="278.4" r="2.15" fill="#b9cce0"/><circle cx="153.7" cy="341.3" r="2.15" fill="#98adc3"/><circle cx="250.4" cy="315.1" r="2.15" fill="#a9c0d8"/><circle cx="243.2" cy="327.1" r="2.15" fill="#8d8d8d"/><circle cx="154.1" cy="306.9" r="2.15" fill="#9fb5cc"/><circle cx="247.9" cy="341.7" r="2.15" fill="#98adc3"/><circle cx="152.5" cy="335.0" r="2.15" fill="#c3d5e8"/><circle cx="154.4" cy="303.5" r="2.15" fill="#b9cce0"/><circle cx="250.0" cy="325.3" r="2.15" fill="#c9dbee"/><circle cx="140.0" cy="262.6" r="2.15" fill="#dbe7f3"/><circle cx="237.6" cy="330.1" r="2.15" fill="#8b9cae"/><circle cx="157.6" cy="279.5" r="2.15" fill="#d3e1ef"/><circle cx="237.7" cy="337.5" r="2.15" fill="#8d8d8d"/><circle cx="149.5" cy="335.0" r="2.15" fill="#7f8b97"/><circle cx="148.5" cy="289.0" r="2.15" fill="#d3e1ef"/><circle cx="154.6" cy="285.7" r="2.15" fill="#9fb5cc"/><circle cx="244.3" cy="313.2" r="2.15" fill="#8b9cae"/><circle cx="155.7" cy="284.1" r="2.15" fill="#d3e1ef"/><circle cx="244.0" cy="315.1" r="2.15" fill="#98adc3"/><circle cx="157.2" cy="297.1" r="2.15" fill="#d3e1ef"/><circle cx="156.1" cy="305.3" r="2.15" fill="#8fa0b2"/><circle cx="154.2" cy="285.5" r="2.15" fill="#d3e1ef"/><circle cx="241.0" cy="315.1" r="2.15" fill="#7f8b97"/><circle cx="140.6" cy="345.8" r="2.15" fill="#5f6b78"/><circle cx="254.2" cy="314.6" r="2.15" fill="#8d8d8d"/><circle cx="150.7" cy="262.0" r="2.15" fill="#8e9296"/><circle cx="249.7" cy="361.7" r="2.15" fill="#98adc3"/><circle cx="252.7" cy="322.8" r="2.15" fill="#c9dbee"/><circle cx="145.4" cy="315.0" r="2.15" fill="#b9cce0"/><circle cx="251.0" cy="315.1" r="2.15" fill="#8d8d8d"/><circle cx="250.1" cy="325.2" r="2.15" fill="#8d8d8d"/><circle cx="150.0" cy="281.4" r="2.15" fill="#d3e1ef"/><circle cx="146.8" cy="289.1" r="2.15" fill="#b9cce0"/><circle cx="156.7" cy="245.9" r="2.15" fill="#c8dbee"/><circle cx="237.5" cy="286.1" r="2.15" fill="#dbe7f3"/><circle cx="252.3" cy="327.8" r="2.15" fill="#8d8d8d"/><circle cx="146.0" cy="345.8" r="2.15" fill="#8d8d8d"/><circle cx="141.3" cy="315.0" r="2.15" fill="#9fb5cc"/><circle cx="245.5" cy="297.2" r="2.15" fill="#c3d5e8"/><circle cx="143.6" cy="351.8" r="2.15" fill="#8d8d8d"/><circle cx="236.5" cy="364.4" r="2.15" fill="#98adc3"/><circle cx="149.9" cy="281.8" r="2.15" fill="#b9cce0"/><circle cx="244.8" cy="303.4" r="2.15" fill="#c3d5e8"/><circle cx="249.9" cy="313.2" r="2.15" fill="#c9dbee"/><circle cx="147.6" cy="318.6" r="2.15" fill="#8fa0b2"/><circle cx="142.4" cy="301.3" r="2.15" fill="#9fb5cc"/><circle cx="153.1" cy="242.3" r="2.15" fill="#6f8398"/><circle cx="147.4" cy="323.2" r="2.15" fill="#8fa0b2"/><circle cx="154.3" cy="304.5" r="2.15" fill="#8d8d8d"/><circle cx="236.6" cy="290.6" r="2.15" fill="#dbe7f3"/><circle cx="140.2" cy="278.6" r="2.15" fill="#b9cce0"/><circle cx="146.5" cy="287.8" r="2.15" fill="#8fa0b2"/><circle cx="144.8" cy="335.0" r="2.15" fill="#7f8b97"/><circle cx="143.5" cy="304.6" r="2.15" fill="#b9cce0"/><circle cx="149.5" cy="298.5" r="2.15" fill="#9fb5cc"/><circle cx="253.4" cy="323.4" r="2.15" fill="#c9dbee"/><circle cx="250.6" cy="290.6" r="2.15" fill="#dbe7f3"/><circle cx="254.9" cy="316.9" r="2.15" fill="#c9dbee"/><circle cx="142.0" cy="275.7" r="2.15" fill="#c3d5e8"/><circle cx="142.5" cy="315.0" r="2.15" fill="#b9cce0"/><circle cx="148.4" cy="291.1" r="2.15" fill="#9fb5cc"/><circle cx="150.7" cy="308.9" r="2.15" fill="#8d8d8d"/><circle cx="239.0" cy="290.6" r="2.15" fill="#dbe7f3"/><circle cx="253.9" cy="303.4" r="2.15" fill="#98adc3"/><circle cx="139.8" cy="308.9" r="2.15" fill="#8fa0b2"/><circle cx="238.7" cy="308.6" r="2.15" fill="#98adc3"/><circle cx="145.1" cy="280.3" r="2.15" fill="#9fb5cc"/><circle cx="140.1" cy="316.4" r="2.15" fill="#8fa0b2"/><circle cx="249.6" cy="239.5" r="2.15" fill="#7f93a8"/><circle cx="145.0" cy="250.6" r="2.15" fill="#6f87a0"/><circle cx="148.1" cy="303.0" r="2.15" fill="#9fb5cc"/><circle cx="143.0" cy="345.8" r="2.15" fill="#8d8d8d"/><circle cx="247.5" cy="315.1" r="2.15" fill="#8d8d8d"/><circle cx="253.9" cy="280.5" r="2.15" fill="#dbe7f3"/><circle cx="251.5" cy="297.2" r="2.15" fill="#dbe7f3"/><circle cx="247.9" cy="364.4" r="2.15" fill="#dbe7f3"/><circle cx="142.0" cy="321.5" r="2.15" fill="#9fb5cc"/><circle cx="155.2" cy="301.3" r="2.15" fill="#8d8d8d"/><circle cx="140.0" cy="270.3" r="2.15" fill="#c4d6ea"/><circle cx="154.2" cy="295.0" r="2.15" fill="#b9cce0"/><circle cx="254.0" cy="297.2" r="2.15" fill="#7f8b97"/><circle cx="240.4" cy="316.8" r="2.15" fill="#8d8d8d"/><circle cx="152.9" cy="315.0" r="2.15" fill="#b9cce0"/><circle cx="239.0" cy="356.1" r="2.15" fill="#5f6b78"/><circle cx="245.8" cy="290.6" r="2.15" fill="#5f6b78"/><circle cx="236.3" cy="321.2" r="2.15" fill="#8b9cae"/><circle cx="154.8" cy="313.1" r="2.15" fill="#8fa0b2"/><circle cx="236.9" cy="327.1" r="2.15" fill="#8d8d8d"/><circle cx="241.6" cy="305.5" r="2.15" fill="#7f8b97"/><circle cx="249.6" cy="327.2" r="2.15" fill="#a9c0d8"/><circle cx="156.7" cy="341.3" r="2.15" fill="#c3d5e8"/><circle cx="157.0" cy="270.3" r="2.15" fill="#d0e0f0"/><circle cx="157.1" cy="321.1" r="2.15" fill="#d3e1ef"/><circle cx="255.4" cy="336.4" r="2.15" fill="#5f6b78"/><circle cx="250.3" cy="308.2" r="2.15" fill="#c3d5e8"/><circle cx="151.2" cy="294.7" r="2.15" fill="#d3e1ef"/><circle cx="237.6" cy="300.9" r="2.15" fill="#c3d5e8"/><circle cx="155.4" cy="301.2" r="2.15" fill="#d3e1ef"/><circle cx="251.5" cy="361.7" r="2.15" fill="#98adc3"/><circle cx="245.4" cy="330.0" r="2.15" fill="#a9c0d8"/><circle cx="143.0" cy="262.0" r="2.15" fill="#8e8e8e"/><circle cx="251.0" cy="332.1" r="2.15" fill="#a9c0d8"/><circle cx="146.3" cy="297.2" r="2.15" fill="#b9cce0"/><circle cx="143.1" cy="305.1" r="2.15" fill="#b9cce0"/><circle cx="142.3" cy="295.0" r="2.15" fill="#8fa0b2"/><circle cx="139.7" cy="323.2" r="2.15" fill="#b9cce0"/><circle cx="242.0" cy="352.5" r="2.15" fill="#98adc3"/><circle cx="143.8" cy="318.6" r="2.15" fill="#8fa0b2"/><circle cx="149.7" cy="315.3" r="2.15" fill="#8d8d8d"/><circle cx="155.8" cy="291.5" r="2.15" fill="#b9cce0"/><circle cx="143.0" cy="250.6" r="2.15" fill="#7890aa"/><circle cx="152.5" cy="279.8" r="2.15" fill="#5f6b78"/><circle cx="147.7" cy="245.3" r="2.15" fill="#d8e6f4"/><circle cx="242.1" cy="323.2" r="2.15" fill="#c9dbee"/><circle cx="236.4" cy="239.5" r="2.15" fill="#b9cde2"/><circle cx="254.5" cy="277.5" r="2.15" fill="#c3d5e8"/><circle cx="141.1" cy="281.9" r="2.15" fill="#b9cce0"/><circle cx="243.5" cy="341.7" r="2.15" fill="#dbe7f3"/><circle cx="253.0" cy="356.1" r="2.15" fill="#dbe7f3"/><circle cx="141.6" cy="293.2" r="2.15" fill="#8d8d8d"/><circle cx="151.4" cy="310.5" r="2.15" fill="#8fa0b2"/><circle cx="144.7" cy="289.6" r="2.15" fill="#d3e1ef"/><circle cx="243.4" cy="375.9" r="2.15" fill="#98adc3"/><circle cx="149.5" cy="351.8" r="2.15" fill="#8d8d8d"/><circle cx="253.6" cy="290.6" r="2.15" fill="#98adc3"/><circle cx="140.9" cy="278.2" r="2.15" fill="#d3e1ef"/><circle cx="146.0" cy="270.3" r="2.15" fill="#bcd0e6"/><circle cx="143.6" cy="290.8" r="2.15" fill="#b9cce0"/><circle cx="155.8" cy="351.8" r="2.15" fill="#8d8d8d"/><circle cx="253.4" cy="327.7" r="2.15" fill="#8b9cae"/><circle cx="154.3" cy="303.0" r="2.15" fill="#9fb5cc"/><circle cx="253.3" cy="352.5" r="2.15" fill="#7f8b97"/><circle cx="157.0" cy="275.7" r="2.15" fill="#dbe7f3"/><circle cx="245.8" cy="331.8" r="2.15" fill="#8b9cae"/><circle cx="149.3" cy="301.3" r="2.15" fill="#8fa0b2"/><circle cx="245.6" cy="333.8" r="2.15" fill="#8b9cae"/><circle cx="147.1" cy="290.9" r="2.15" fill="#b9cce0"/><circle cx="245.8" cy="364.4" r="2.15" fill="#c3d5e8"/><circle cx="156.1" cy="320.8" r="2.15" fill="#d3e1ef"/><circle cx="236.2" cy="260.9" r="2.15" fill="#7f8b97"/><circle cx="147.7" cy="251.3" r="2.15" fill="#7890aa"/><circle cx="146.7" cy="289.7" r="2.15" fill="#b9cce0"/><circle cx="139.7" cy="299.5" r="2.15" fill="#8fa0b2"/><circle cx="144.5" cy="316.8" r="2.15" fill="#b9cce0"/><circle cx="248.2" cy="312.3" r="2.15" fill="#a9c0d8"/><circle cx="148.2" cy="309.3" r="2.15" fill="#9fb5cc"/><circle cx="250.3" cy="372.2" r="2.15" fill="#7f8b97"/><circle cx="243.0" cy="314.5" r="2.15" fill="#c9dbee"/><circle cx="153.5" cy="283.6" r="2.15" fill="#8d8d8d"/><circle cx="152.0" cy="330.9" r="2.15" fill="#98adc3"/><circle cx="140.6" cy="296.7" r="2.15" fill="#b9cce0"/><circle cx="154.7" cy="287.4" r="2.15" fill="#b9cce0"/><circle cx="249.1" cy="375.9" r="2.15" fill="#7f8b97"/><circle cx="141.6" cy="279.7" r="2.15" fill="#8d8d8d"/><circle cx="242.3" cy="280.5" r="2.15" fill="#c3d5e8"/><circle cx="252.4" cy="316.6" r="2.15" fill="#a9c0d8"/><circle cx="150.3" cy="310.2" r="2.15" fill="#9fb5cc"/><circle cx="242.6" cy="297.2" r="2.15" fill="#dbe7f3"/><circle cx="142.0" cy="292.9" r="2.15" fill="#b9cce0"/><circle cx="252.0" cy="314.9" r="2.15" fill="#5f6b78"/><circle cx="250.9" cy="352.5" r="2.15" fill="#98adc3"/><circle cx="236.9" cy="356.1" r="2.15" fill="#8d8d8d"/><circle cx="155.5" cy="290.8" r="2.15" fill="#b9cce0"/><circle cx="143.0" cy="326.1" r="2.15" fill="#8d8d8d"/><circle cx="153.8" cy="281.7" r="2.15" fill="#8fa0b2"/><circle cx="150.0" cy="283.9" r="2.15" fill="#b9cce0"/><circle cx="252.5" cy="329.4" r="2.15" fill="#a9c0d8"/><circle cx="252.3" cy="327.6" r="2.15" fill="#8b9cae"/><circle cx="251.1" cy="300.7" r="2.15" fill="#98adc3"/><circle cx="239.3" cy="347.1" r="2.15" fill="#7f8b97"/><circle cx="255.4" cy="336.0" r="2.15" fill="#c9dbee"/><circle cx="140.3" cy="294.6" r="2.15" fill="#9fb5cc"/><circle cx="242.3" cy="335.5" r="2.15" fill="#a9c0d8"/><circle cx="149.2" cy="298.7" r="2.15" fill="#8fa0b2"/><circle cx="145.7" cy="298.8" r="2.15" fill="#b9cce0"/><circle cx="148.3" cy="305.1" r="2.15" fill="#8d8d8d"/><circle cx="157.8" cy="303.6" r="2.15" fill="#9fb5cc"/><circle cx="141.7" cy="312.4" r="2.15" fill="#b9cce0"/><circle cx="239.7" cy="260.9" r="2.15" fill="#7f8b97"/><circle cx="254.0" cy="315.1" r="2.15" fill="#dbe7f3"/><circle cx="144.7" cy="284.4" r="2.15" fill="#8fa0b2"/><circle cx="157.0" cy="278.2" r="2.15" fill="#d3e1ef"/><circle cx="237.2" cy="319.0" r="2.15" fill="#8b9cae"/><circle cx="249.1" cy="319.2" r="2.15" fill="#a9c0d8"/><circle cx="238.5" cy="337.8" r="2.15" fill="#8d8d8d"/><circle cx="241.8" cy="325.4" r="2.15" fill="#c9dbee"/><circle cx="143.8" cy="278.4" r="2.15" fill="#9fb5cc"/><circle cx="250.3" cy="316.7" r="2.15" fill="#8b9cae"/><circle cx="245.4" cy="335.7" r="2.15" fill="#c9dbee"/><circle cx="252.5" cy="239.5" r="2.15" fill="#8a9cb0"/><circle cx="152.0" cy="270.3" r="2.15" fill="#bcd0e6"/><circle cx="156.7" cy="326.1" r="2.15" fill="#7f8b97"/><circle cx="148.6" cy="289.0" r="2.15" fill="#b9cce0"/><circle cx="250.9" cy="375.9" r="2.15" fill="#dbe7f3"/><circle cx="243.6" cy="300.9" r="2.15" fill="#98adc3"/><circle cx="145.3" cy="323.4" r="2.15" fill="#8fa0b2"/><circle cx="255.0" cy="321.3" r="2.15" fill="#c9dbee"/><circle cx="141.8" cy="257.5" r="2.15" fill="#8da2b9"/><circle cx="252.2" cy="327.6" r="2.15" fill="#a9c0d8"/><circle cx="144.2" cy="319.1" r="2.15" fill="#d3e1ef"/><circle cx="151.4" cy="288.1" r="2.15" fill="#d3e1ef"/><circle cx="248.2" cy="333.5" r="2.15" fill="#a9c0d8"/><circle cx="236.0" cy="361.7" r="2.15" fill="#98adc3"/><circle cx="255.4" cy="286.1" r="2.15" fill="#dbe7f3"/><circle cx="144.2" cy="300.9" r="2.15" fill="#d3e1ef"/><circle cx="148.2" cy="296.6" r="2.15" fill="#9fb5cc"/><circle cx="142.0" cy="279.6" r="2.15" fill="#b9cce0"/><circle cx="242.2" cy="321.2" r="2.15" fill="#a9c0d8"/><circle cx="150.6" cy="303.1" r="2.15" fill="#b9cce0"/><circle cx="154.6" cy="270.3" r="2.15" fill="#c8d8ea"/><circle cx="142.4" cy="341.3" r="2.15" fill="#98adc3"/><circle cx="148.5" cy="303.5" r="2.15" fill="#b9cce0"/><circle cx="149.0" cy="270.3" r="2.15" fill="#c4d6ea"/><circle cx="154.5" cy="301.5" r="2.15" fill="#8fa0b2"/><circle cx="250.9" cy="280.5" r="2.15" fill="#dbe7f3"/><circle cx="147.8" cy="316.3" r="2.15" fill="#d3e1ef"/><circle cx="146.0" cy="326.1" r="2.15" fill="#dbe7f3"/><circle cx="254.9" cy="312.6" r="2.15" fill="#8d8d8d"/><circle cx="157.4" cy="320.9" r="2.15" fill="#9fb5cc"/><circle cx="248.4" cy="337.7" r="2.15" fill="#5f6b78"/><circle cx="155.5" cy="281.8" r="2.15" fill="#7f8b97"/><circle cx="155.7" cy="319.5" r="2.15" fill="#b9cce0"/><circle cx="140.9" cy="298.6" r="2.15" fill="#b9cce0"/><circle cx="145.8" cy="303.8" r="2.15" fill="#8fa0b2"/><circle cx="153.7" cy="245.9" r="2.15" fill="#d0e0f0"/><circle cx="139.7" cy="287.5" r="2.15" fill="#8fa0b2"/><circle cx="248.8" cy="334.0" r="2.15" fill="#a9c0d8"/><circle cx="145.6" cy="322.8" r="2.15" fill="#d3e1ef"/><circle cx="154.5" cy="312.8" r="2.15" fill="#b9cce0"/><circle cx="156.8" cy="310.4" r="2.15" fill="#9fb5cc"/><circle cx="139.7" cy="242.3" r="2.15" fill="#6f849c"/><circle cx="144.8" cy="310.2" r="2.15" fill="#8fa0b2"/><circle cx="140.6" cy="351.8" r="2.15" fill="#8d8d8d"/><circle cx="148.0" cy="309.0" r="2.15" fill="#9fb5cc"/><circle cx="156.9" cy="319.4" r="2.15" fill="#8fa0b2"/><circle cx="148.8" cy="313.1" r="2.15" fill="#9fb5cc"/><circle cx="245.5" cy="260.9" r="2.15" fill="#8390a0"/><circle cx="151.0" cy="280.4" r="2.15" fill="#d3e1ef"/><circle cx="153.9" cy="307.3" r="2.15" fill="#8d8d8d"/><circle cx="145.5" cy="323.3" r="2.15" fill="#8d8d8d"/><circle cx="239.6" cy="297.2" r="2.15" fill="#98adc3"/><circle cx="246.5" cy="329.4" r="2.15" fill="#a9c0d8"/><circle cx="254.8" cy="347.1" r="2.15" fill="#dbe7f3"/><circle cx="141.5" cy="242.3" r="2.15" fill="#7a8fa6"/><circle cx="148.6" cy="281.7" r="2.15" fill="#8fa0b2"/><circle cx="152.0" cy="252.4" r="2.15" fill="#7d93aa"/><circle cx="154.9" cy="322.8" r="2.15" fill="#b9cce0"/><circle cx="243.2" cy="347.1" r="2.15" fill="#7f8b97"/></g><polygon points="71,242.5 265.3,342.6 71,309.3" fill="#bccbdb" fill-opacity="0.75"/><path d="M71 242.3 L265.3 342.6" stroke="#000" stroke-width="1.1" fill="none"/><path d="M71 244.2 L265.3 342.6" stroke="#000" stroke-width="1.1" fill="none"/><path d="M71 275.9 L265.3 342.6" stroke="#000" stroke-width="1.1" fill="none"/><path d="M71 278.4 L265.3 342.6" stroke="#000" stroke-width="1.0" fill="none" stroke-dasharray="1 2.2"/><path d="M71 309.3 L265.3 342.6" stroke="#777" stroke-width="1.0" fill="none"/><path d="M71 312.4 L265.3 342.6" stroke="#000" stroke-width="1.0" fill="none"/><circle cx="265.3" cy="342.6" r="3.3" fill="#111"/><path d="M61.7 231.3 V382.6 H274.6" fill="none" stroke="#000" stroke-width="1.1"/><path d="M59.3 260.3 H61.7" stroke="#333" stroke-width="1"/><text x="57.2" y="263.3" text-anchor="end" font-size="8.5" fill="#4d4d4d">2.0</text><path d="M59.3 301.4 H61.7" stroke="#333" stroke-width="1"/><text x="57.2" y="304.4" text-anchor="end" font-size="8.5" fill="#4d4d4d">1.5</text><path d="M59.3 342.6 H61.7" stroke="#333" stroke-width="1"/><text x="57.2" y="345.6" text-anchor="end" font-size="8.5" fill="#4d4d4d">1.0</text><path d="M100 382.6 V385.0" stroke="#333" stroke-width="1"/><text x="100" y="393.6" text-anchor="middle" font-size="8.5" fill="#4d4d4d">5</text><path d="M148.4 382.6 V385.0" stroke="#333" stroke-width="1"/><text x="148.4" y="393.6" text-anchor="middle" font-size="8.5" fill="#4d4d4d">10</text><path d="M197.3 382.6 V385.0" stroke="#333" stroke-width="1"/><text x="197.3" y="393.6" text-anchor="middle" font-size="8.5" fill="#4d4d4d">15</text><path d="M245.7 382.6 V385.0" stroke="#333" stroke-width="1"/><text x="245.7" y="393.6" text-anchor="middle" font-size="8.5" fill="#4d4d4d">20</text><text x="167.9" y="405.0" text-anchor="middle" font-size="10.5" fill="#000">Ambient Temperature (°C)</text><rect x="69.45" y="423.7" width="14.3" height="18.4" fill="#a0b4c9" stroke="#262626" stroke-width="1.1"/><path d="M70.75 433.2 H83.25" stroke="#111" stroke-width="1.0"/><text font-size="6.6" fill="#1a1a1a"><tspan x="89.8" y="429.2">Mean Tarsus</tspan><tspan x="89.8" y="436.5">Length -</tspan><tspan x="89.8" y="443.8">1 SD (34mm)</tspan></text><rect x="135.95" y="423.5" width="14.4" height="18.4" fill="#e3ecf6" stroke="#262626" stroke-width="1.1"/><path d="M137.14999999999998 433.1 H149.15" stroke="#111" stroke-width="1.2" stroke-dasharray="4.1 3.9"/><text font-size="6.6" fill="#1a1a1a"><tspan x="156.9" y="432.7">Mean Tarsus</tspan><tspan x="156.9" y="440.0">Length (37mm)</tspan></text><rect x="207.65" y="423.5" width="14.4" height="18.4" fill="#ffffff" stroke="#262626" stroke-width="1.1"/><path d="M209.15 433.1 H222.05" stroke="#333" stroke-width="1.0" stroke-dasharray="1 2.8"/><text font-size="6.6" fill="#1a1a1a"><tspan x="228.6" y="428.1">Mean Tarsus</tspan><tspan x="228.6" y="435.4">Length +</tspan><tspan x="228.6" y="442.7">1 SD (39mm)</tspan></text><text x="2.7" y="468.0" font-size="20.3" fill="#000">C</text><text transform="translate(29.5,533.8) rotate(-90)" text-anchor="middle" font-size="10.5" fill="#000">Resting Metabolism</text><text transform="translate(40.9,533.8) rotate(-90)" text-anchor="middle" font-size="10.5" fill="#000">(Fold Change from Thermoneutrality)</text><g stroke="#7890aa" stroke-width="0.5" stroke-opacity="0.85" fill-opacity="0.85"><circle cx="237.7" cy="532.8" r="2.15" fill="#c0d6ec"/><circle cx="239.9" cy="541.7" r="2.15" fill="#a9c4e0"/><circle cx="148.3" cy="568.0" r="2.15" fill="#a9c4e0"/><circle cx="148.2" cy="533.5" r="2.15" fill="#eef4fa"/><circle cx="237.9" cy="550.3" r="2.15" fill="#93afcc"/><circle cx="154.3" cy="534.2" r="2.15" fill="#bcd1e6"/><circle cx="241.4" cy="602.6" r="2.15" fill="#8a96a2"/><circle cx="247.3" cy="504.2" r="2.15" fill="#d6e5f4"/><circle cx="142.1" cy="521.4" r="2.15" fill="#d9e7f4"/><circle cx="248.4" cy="539.5" r="2.15" fill="#a9c4e0"/><circle cx="141.9" cy="545.3" r="2.15" fill="#d9e7f4"/><circle cx="143.0" cy="497.0" r="2.15" fill="#8a8a8a"/><circle cx="248.2" cy="517.3" r="2.15" fill="#c0d6ec"/><circle cx="245.4" cy="548.0" r="2.15" fill="#a9c4e0"/><circle cx="240.3" cy="539.4" r="2.15" fill="#787878"/><circle cx="150.1" cy="506.5" r="2.15" fill="#d9e7f4"/><circle cx="141.5" cy="510.5" r="2.15" fill="#eef4fa"/><circle cx="148.2" cy="514.4" r="2.15" fill="#eef4fa"/><circle cx="243.4" cy="595.6" r="2.15" fill="#c0d6ec"/><circle cx="246.0" cy="546.4" r="2.15" fill="#c4d9ee"/><circle cx="246.4" cy="573.8" r="2.15" fill="#c0d6ec"/><circle cx="142.1" cy="517.4" r="2.15" fill="#d9e7f4"/><circle cx="237.8" cy="562.6" r="2.15" fill="#a9c4e0"/><circle cx="254.8" cy="582.8" r="2.15" fill="#a9c4e0"/><circle cx="147.7" cy="488.7" r="2.15" fill="#8a96a2"/><circle cx="156.3" cy="504.7" r="2.15" fill="#d9e7f4"/><circle cx="149.5" cy="509.5" r="2.15" fill="#a6c0dc"/><circle cx="250.3" cy="595.6" r="2.15" fill="#d6e5f4"/><circle cx="152.7" cy="548.0" r="2.15" fill="#eef4fa"/><circle cx="240.1" cy="544.2" r="2.15" fill="#787878"/><circle cx="142.4" cy="557.6" r="2.15" fill="#d6e5f4"/><circle cx="250.7" cy="564.4" r="2.15" fill="#c4d9ee"/><circle cx="244.3" cy="579.2" r="2.15" fill="#8a96a2"/><circle cx="145.5" cy="527.5" r="2.15" fill="#d9e7f4"/><circle cx="140.6" cy="552.8" r="2.15" fill="#d6e5f4"/><circle cx="247.6" cy="549.7" r="2.15" fill="#c4d9ee"/><circle cx="150.6" cy="543.2" r="2.15" fill="#eef4fa"/><circle cx="248.6" cy="558.2" r="2.15" fill="#c4d9ee"/><circle cx="247.4" cy="532.5" r="2.15" fill="#d6e5f4"/><circle cx="244.6" cy="545.5" r="2.15" fill="#a9c4e0"/><circle cx="154.9" cy="484.5" r="2.15" fill="#d6e5f4"/><circle cx="243.7" cy="535.3" r="2.15" fill="#c0d6ec"/><circle cx="241.0" cy="548.5" r="2.15" fill="#c4d9ee"/><circle cx="146.0" cy="502.4" r="2.15" fill="#d6e5f4"/><circle cx="236.3" cy="598.9" r="2.15" fill="#d6e5f4"/><circle cx="250.9" cy="573.8" r="2.15" fill="#a9c4e0"/><circle cx="253.9" cy="487.6" r="2.15" fill="#bcd2e8"/><circle cx="156.0" cy="543.0" r="2.15" fill="#d9e7f4"/><circle cx="143.2" cy="536.9" r="2.15" fill="#eef4fa"/><circle cx="249.9" cy="560.3" r="2.15" fill="#c4d9ee"/><circle cx="255.3" cy="544.3" r="2.15" fill="#c4d9ee"/><circle cx="240.2" cy="548.0" r="2.15" fill="#c4d9ee"/><circle cx="254.5" cy="595.6" r="2.15" fill="#d6e5f4"/><circle cx="151.0" cy="502.4" r="2.15" fill="#d6e5f4"/><circle cx="247.9" cy="598.9" r="2.15" fill="#d6e5f4"/><circle cx="255.3" cy="532.8" r="2.15" fill="#d6e5f4"/><circle cx="255.0" cy="560.1" r="2.15" fill="#93afcc"/><circle cx="146.8" cy="521.4" r="2.15" fill="#d9e7f4"/><circle cx="239.8" cy="539.9" r="2.15" fill="#a9c4e0"/><circle cx="253.5" cy="556.0" r="2.15" fill="#a9c4e0"/><circle cx="157.5" cy="511.5" r="2.15" fill="#b0c8e0"/><circle cx="252.1" cy="591.1" r="2.15" fill="#a9c4e0"/><circle cx="243.2" cy="564.7" r="2.15" fill="#c4d9ee"/><circle cx="142.2" cy="535.6" r="2.15" fill="#eef4fa"/><circle cx="247.8" cy="546.2" r="2.15" fill="#a9c4e0"/><circle cx="150.1" cy="478.5" r="2.15" fill="#777777"/><circle cx="150.7" cy="568.0" r="2.15" fill="#a9c4e0"/><circle cx="157.1" cy="519.7" r="2.15" fill="#eef4fa"/><circle cx="150.1" cy="557.6" r="2.15" fill="#a9c4e0"/><circle cx="143.9" cy="508.1" r="2.15" fill="#eef4fa"/><circle cx="239.1" cy="552.3" r="2.15" fill="#a9c4e0"/><circle cx="246.7" cy="527.0" r="2.15" fill="#c0d6ec"/><circle cx="150.7" cy="484.5" r="2.15" fill="#d6e5f4"/><circle cx="240.8" cy="588.4" r="2.15" fill="#8a96a2"/><circle cx="144.8" cy="557.6" r="2.15" fill="#a9c4e0"/><circle cx="156.1" cy="539.6" r="2.15" fill="#eef4fa"/><circle cx="154.5" cy="512.5" r="2.15" fill="#3f4b58"/><circle cx="238.0" cy="541.8" r="2.15" fill="#c0d6ec"/><circle cx="245.5" cy="598.9" r="2.15" fill="#d6e5f4"/><circle cx="241.4" cy="556.3" r="2.15" fill="#c4d9ee"/><circle cx="140.4" cy="514.5" r="2.15" fill="#d9e7f4"/><circle cx="237.8" cy="588.4" r="2.15" fill="#a9c4e0"/><circle cx="244.5" cy="552.2" r="2.15" fill="#a9c4e0"/><circle cx="157.3" cy="557.6" r="2.15" fill="#c0d6ec"/><circle cx="139.4" cy="561.7" r="2.15" fill="#c0d6ec"/><circle cx="240.6" cy="568.4" r="2.15" fill="#d6e5f4"/><circle cx="139.4" cy="472.3" r="2.15" fill="#8a96a2"/><circle cx="154.8" cy="525.4" r="2.15" fill="#8c9aa8"/><circle cx="148.4" cy="524.2" r="2.15" fill="#d9e7f4"/><circle cx="156.6" cy="508.3" r="2.15" fill="#eef4fa"/><circle cx="242.0" cy="582.8" r="2.15" fill="#c0d6ec"/><circle cx="246.0" cy="552.4" r="2.15" fill="#93afcc"/><circle cx="139.4" cy="557.6" r="2.15" fill="#d6e5f4"/><circle cx="147.5" cy="549.4" r="2.15" fill="#eef4fa"/><circle cx="250.5" cy="559.1" r="2.15" fill="#c4d9ee"/><circle cx="146.7" cy="533.7" r="2.15" fill="#d9e7f4"/><circle cx="145.8" cy="512.6" r="2.15" fill="#d9e7f4"/><circle cx="154.3" cy="552.8" r="2.15" fill="#d6e5f4"/><circle cx="149.7" cy="512.9" r="2.15" fill="#d9e7f4"/><circle cx="153.8" cy="539.6" r="2.15" fill="#d9e7f4"/><circle cx="245.5" cy="595.6" r="2.15" fill="#7a7a7a"/><circle cx="241.5" cy="545.5" r="2.15" fill="#8a96a2"/><circle cx="140.6" cy="521.5" r="2.15" fill="#eef4fa"/><circle cx="157.3" cy="512.2" r="2.15" fill="#bcd1e6"/><circle cx="249.7" cy="568.4" r="2.15" fill="#8a96a2"/><circle cx="147.1" cy="536.8" r="2.15" fill="#bcd1e6"/><circle cx="240.1" cy="529.5" r="2.15" fill="#a9c4e0"/><circle cx="150.7" cy="519.4" r="2.15" fill="#d9e7f4"/><circle cx="157.6" cy="469.0" r="2.15" fill="#cfe0f1"/><circle cx="240.5" cy="560.5" r="2.15" fill="#8a96a2"/><circle cx="246.4" cy="556.6" r="2.15" fill="#a9c4e0"/><circle cx="248.5" cy="523.9" r="2.15" fill="#a9c4e0"/><circle cx="241.1" cy="541.2" r="2.15" fill="#c4d9ee"/><circle cx="237.8" cy="568.4" r="2.15" fill="#d6e5f4"/><circle cx="252.0" cy="549.4" r="2.15" fill="#c4d9ee"/><circle cx="250.5" cy="533.0" r="2.15" fill="#c0d6ec"/><circle cx="153.1" cy="519.5" r="2.15" fill="#d9e7f4"/><circle cx="144.8" cy="568.0" r="2.15" fill="#d6e5f4"/><circle cx="155.6" cy="537.5" r="2.15" fill="#eef4fa"/><circle cx="145.4" cy="544.0" r="2.15" fill="#bcd1e6"/><circle cx="245.5" cy="512.8" r="2.15" fill="#d6e5f4"/><circle cx="250.1" cy="529.6" r="2.15" fill="#8a96a2"/><circle cx="157.0" cy="534.0" r="2.15" fill="#d9e7f4"/><circle cx="156.9" cy="545.9" r="2.15" fill="#d9e7f4"/><circle cx="244.6" cy="504.2" r="2.15" fill="#7a7a7a"/><circle cx="245.5" cy="558.8" r="2.15" fill="#93afcc"/><circle cx="154.9" cy="477.3" r="2.15" fill="#d0e0f0"/><circle cx="155.4" cy="506.4" r="2.15" fill="#bcd1e6"/><circle cx="141.1" cy="505.1" r="2.15" fill="#eef4fa"/><circle cx="153.7" cy="568.0" r="2.15" fill="#8a96a2"/><circle cx="250.4" cy="541.8" r="2.15" fill="#8a96a2"/><circle cx="243.2" cy="553.8" r="2.15" fill="#c4d9ee"/><circle cx="154.1" cy="533.6" r="2.15" fill="#eef4fa"/><circle cx="247.9" cy="568.4" r="2.15" fill="#d6e5f4"/><circle cx="152.5" cy="561.7" r="2.15" fill="#a9c4e0"/><circle cx="154.4" cy="530.2" r="2.15" fill="#bcd1e6"/><circle cx="250.0" cy="552.0" r="2.15" fill="#c4d9ee"/><circle cx="140.0" cy="489.3" r="2.15" fill="#d6e5f4"/><circle cx="237.6" cy="556.8" r="2.15" fill="#a9c4e0"/><circle cx="157.6" cy="506.2" r="2.15" fill="#bcd1e6"/><circle cx="237.7" cy="564.2" r="2.15" fill="#93afcc"/><circle cx="149.5" cy="561.7" r="2.15" fill="#a9c4e0"/><circle cx="148.5" cy="515.7" r="2.15" fill="#8c9aa8"/><circle cx="154.6" cy="512.4" r="2.15" fill="#d9e7f4"/><circle cx="244.3" cy="539.9" r="2.15" fill="#8a96a2"/><circle cx="155.7" cy="510.8" r="2.15" fill="#eef4fa"/><circle cx="244.0" cy="541.8" r="2.15" fill="#d6e5f4"/><circle cx="157.2" cy="523.8" r="2.15" fill="#bcd1e6"/><circle cx="156.1" cy="532.0" r="2.15" fill="#d9e7f4"/><circle cx="154.2" cy="512.2" r="2.15" fill="#eef4fa"/><circle cx="241.0" cy="541.8" r="2.15" fill="#d6e5f4"/><circle cx="140.6" cy="572.5" r="2.15" fill="#d6e5f4"/><circle cx="254.2" cy="541.3" r="2.15" fill="#a9c4e0"/><circle cx="150.7" cy="488.7" r="2.15" fill="#c0d6ec"/><circle cx="249.7" cy="588.4" r="2.15" fill="#c0d6ec"/><circle cx="252.7" cy="549.5" r="2.15" fill="#c4d9ee"/><circle cx="145.4" cy="541.7" r="2.15" fill="#eef4fa"/><circle cx="251.0" cy="541.8" r="2.15" fill="#d6e5f4"/><circle cx="250.1" cy="551.9" r="2.15" fill="#c4d9ee"/><circle cx="150.0" cy="508.1" r="2.15" fill="#eef4fa"/><circle cx="146.8" cy="515.8" r="2.15" fill="#eef4fa"/><circle cx="156.7" cy="472.6" r="2.15" fill="#d6e5f4"/><circle cx="237.5" cy="512.8" r="2.15" fill="#a9c4e0"/><circle cx="252.3" cy="554.5" r="2.15" fill="#a9c4e0"/><circle cx="146.0" cy="572.5" r="2.15" fill="#c0d6ec"/><circle cx="141.3" cy="541.7" r="2.15" fill="#d9e7f4"/><circle cx="245.5" cy="523.9" r="2.15" fill="#d6e5f4"/><circle cx="143.6" cy="578.5" r="2.15" fill="#d6e5f4"/><circle cx="236.5" cy="591.1" r="2.15" fill="#d6e5f4"/><circle cx="149.9" cy="508.5" r="2.15" fill="#eef4fa"/><circle cx="244.8" cy="530.1" r="2.15" fill="#d6e5f4"/><circle cx="249.9" cy="539.9" r="2.15" fill="#c4d9ee"/><circle cx="147.6" cy="545.3" r="2.15" fill="#eef4fa"/><circle cx="142.4" cy="528.0" r="2.15" fill="#bcd1e6"/><circle cx="153.1" cy="469.0" r="2.15" fill="#cfe0f1"/><circle cx="147.4" cy="549.9" r="2.15" fill="#d9e7f4"/><circle cx="154.3" cy="531.2" r="2.15" fill="#eef4fa"/><circle cx="236.6" cy="517.3" r="2.15" fill="#d6e5f4"/><circle cx="140.2" cy="505.3" r="2.15" fill="#d9e7f4"/><circle cx="146.5" cy="514.5" r="2.15" fill="#eef4fa"/><circle cx="144.8" cy="561.7" r="2.15" fill="#d6e5f4"/><circle cx="143.5" cy="531.3" r="2.15" fill="#eef4fa"/><circle cx="149.5" cy="525.2" r="2.15" fill="#8c9aa8"/><circle cx="253.4" cy="550.1" r="2.15" fill="#a9c4e0"/><circle cx="250.6" cy="517.3" r="2.15" fill="#d6e5f4"/><circle cx="254.9" cy="543.6" r="2.15" fill="#787878"/><circle cx="142.0" cy="502.4" r="2.15" fill="#c0d6ec"/><circle cx="142.5" cy="541.7" r="2.15" fill="#bcd1e6"/><circle cx="148.4" cy="517.8" r="2.15" fill="#eef4fa"/><circle cx="150.7" cy="535.6" r="2.15" fill="#bcd1e6"/><circle cx="239.0" cy="517.3" r="2.15" fill="#d6e5f4"/><circle cx="253.9" cy="530.1" r="2.15" fill="#d6e5f4"/><circle cx="139.8" cy="535.6" r="2.15" fill="#bcd1e6"/><circle cx="238.7" cy="535.3" r="2.15" fill="#c0d6ec"/><circle cx="145.1" cy="507.0" r="2.15" fill="#bcd1e6"/><circle cx="140.1" cy="543.1" r="2.15" fill="#eef4fa"/><circle cx="249.6" cy="466.2" r="2.15" fill="#c9dbee"/><circle cx="145.0" cy="477.3" r="2.15" fill="#747474"/><circle cx="148.1" cy="529.7" r="2.15" fill="#d9e7f4"/><circle cx="143.0" cy="572.5" r="2.15" fill="#d6e5f4"/><circle cx="247.5" cy="541.8" r="2.15" fill="#d6e5f4"/><circle cx="253.9" cy="507.2" r="2.15" fill="#8a96a2"/><circle cx="251.5" cy="523.9" r="2.15" fill="#c0d6ec"/><circle cx="247.9" cy="591.1" r="2.15" fill="#a9c4e0"/><circle cx="142.0" cy="548.2" r="2.15" fill="#eef4fa"/><circle cx="155.2" cy="528.0" r="2.15" fill="#d9e7f4"/><circle cx="140.0" cy="497.0" r="2.15" fill="#d8e6f4"/><circle cx="154.2" cy="521.7" r="2.15" fill="#d9e7f4"/><circle cx="254.0" cy="523.9" r="2.15" fill="#d6e5f4"/><circle cx="240.4" cy="543.5" r="2.15" fill="#93afcc"/><circle cx="152.9" cy="541.7" r="2.15" fill="#bcd1e6"/><circle cx="239.0" cy="582.8" r="2.15" fill="#a9c4e0"/><circle cx="245.8" cy="517.3" r="2.15" fill="#c0d6ec"/><circle cx="236.3" cy="547.9" r="2.15" fill="#a9c4e0"/><circle cx="154.8" cy="539.8" r="2.15" fill="#eef4fa"/><circle cx="236.9" cy="553.8" r="2.15" fill="#93afcc"/><circle cx="241.6" cy="532.2" r="2.15" fill="#d6e5f4"/><circle cx="249.6" cy="553.9" r="2.15" fill="#c4d9ee"/><circle cx="156.7" cy="568.0" r="2.15" fill="#d6e5f4"/><circle cx="157.0" cy="497.0" r="2.15" fill="#c9dbee"/><circle cx="157.1" cy="547.8" r="2.15" fill="#eef4fa"/><circle cx="255.4" cy="563.1" r="2.15" fill="#a9c4e0"/><circle cx="250.3" cy="534.9" r="2.15" fill="#d6e5f4"/><circle cx="151.2" cy="521.4" r="2.15" fill="#eef4fa"/><circle cx="237.6" cy="527.6" r="2.15" fill="#a9c4e0"/><circle cx="155.4" cy="527.9" r="2.15" fill="#eef4fa"/><circle cx="251.5" cy="588.4" r="2.15" fill="#d6e5f4"/><circle cx="245.4" cy="556.7" r="2.15" fill="#a9c4e0"/><circle cx="143.0" cy="488.7" r="2.15" fill="#8a96a2"/><circle cx="251.0" cy="558.8" r="2.15" fill="#787878"/><circle cx="146.3" cy="523.9" r="2.15" fill="#d9e7f4"/><circle cx="143.1" cy="531.8" r="2.15" fill="#eef4fa"/><circle cx="142.3" cy="521.7" r="2.15" fill="#bcd1e6"/><circle cx="139.7" cy="549.9" r="2.15" fill="#8c9aa8"/><circle cx="242.0" cy="579.2" r="2.15" fill="#8a96a2"/><circle cx="143.8" cy="545.3" r="2.15" fill="#d9e7f4"/><circle cx="149.7" cy="542.0" r="2.15" fill="#eef4fa"/><circle cx="155.8" cy="518.2" r="2.15" fill="#d9e7f4"/><circle cx="143.0" cy="477.3" r="2.15" fill="#6e6e6e"/><circle cx="152.5" cy="506.5" r="2.15" fill="#a6c0dc"/><circle cx="147.7" cy="472.0" r="2.15" fill="#c0d6ec"/><circle cx="242.1" cy="549.9" r="2.15" fill="#a9c4e0"/><circle cx="236.4" cy="466.2" r="2.15" fill="#c9dbee"/><circle cx="254.5" cy="504.2" r="2.15" fill="#c0d6ec"/><circle cx="141.1" cy="508.6" r="2.15" fill="#d9e7f4"/><circle cx="243.5" cy="568.4" r="2.15" fill="#d6e5f4"/><circle cx="253.0" cy="582.8" r="2.15" fill="#c0d6ec"/><circle cx="141.6" cy="519.9" r="2.15" fill="#bcd1e6"/><circle cx="151.4" cy="537.2" r="2.15" fill="#eef4fa"/><circle cx="144.7" cy="516.3" r="2.15" fill="#eef4fa"/><circle cx="243.4" cy="602.6" r="2.15" fill="#d6e5f4"/><circle cx="149.5" cy="578.5" r="2.15" fill="#a9c4e0"/><circle cx="253.6" cy="517.3" r="2.15" fill="#d6e5f4"/><circle cx="140.9" cy="504.9" r="2.15" fill="#bcd1e6"/><circle cx="146.0" cy="497.0" r="2.15" fill="#858585"/><circle cx="143.6" cy="517.5" r="2.15" fill="#bcd1e6"/><circle cx="155.8" cy="578.5" r="2.15" fill="#a9c4e0"/><circle cx="253.4" cy="554.4" r="2.15" fill="#c4d9ee"/><circle cx="154.3" cy="529.7" r="2.15" fill="#d9e7f4"/><circle cx="253.3" cy="579.2" r="2.15" fill="#a9c4e0"/><circle cx="157.0" cy="502.4" r="2.15" fill="#d6e5f4"/><circle cx="245.8" cy="558.5" r="2.15" fill="#a9c4e0"/><circle cx="149.3" cy="528.0" r="2.15" fill="#bcd1e6"/><circle cx="245.6" cy="560.5" r="2.15" fill="#787878"/><circle cx="147.1" cy="517.6" r="2.15" fill="#eef4fa"/><circle cx="245.8" cy="591.1" r="2.15" fill="#d6e5f4"/><circle cx="156.1" cy="547.5" r="2.15" fill="#eef4fa"/><circle cx="236.2" cy="487.6" r="2.15" fill="#bcd2e8"/><circle cx="147.7" cy="478.0" r="2.15" fill="#6e6e6e"/><circle cx="146.7" cy="516.4" r="2.15" fill="#eef4fa"/><circle cx="139.7" cy="526.2" r="2.15" fill="#bcd1e6"/><circle cx="144.5" cy="543.5" r="2.15" fill="#d9e7f4"/><circle cx="248.2" cy="539.0" r="2.15" fill="#a9c4e0"/><circle cx="148.2" cy="536.0" r="2.15" fill="#bcd1e6"/><circle cx="250.3" cy="598.9" r="2.15" fill="#d6e5f4"/><circle cx="243.0" cy="541.2" r="2.15" fill="#93afcc"/><circle cx="153.5" cy="510.3" r="2.15" fill="#eef4fa"/><circle cx="152.0" cy="557.6" r="2.15" fill="#d6e5f4"/><circle cx="140.6" cy="523.4" r="2.15" fill="#eef4fa"/><circle cx="154.7" cy="514.1" r="2.15" fill="#bcd1e6"/><circle cx="249.1" cy="602.6" r="2.15" fill="#8a96a2"/><circle cx="141.6" cy="506.4" r="2.15" fill="#eef4fa"/><circle cx="242.3" cy="507.2" r="2.15" fill="#a9c4e0"/><circle cx="252.4" cy="543.3" r="2.15" fill="#c4d9ee"/><circle cx="150.3" cy="536.9" r="2.15" fill="#eef4fa"/><circle cx="242.6" cy="523.9" r="2.15" fill="#d6e5f4"/><circle cx="142.0" cy="519.6" r="2.15" fill="#bcd1e6"/><circle cx="252.0" cy="541.6" r="2.15" fill="#a9c4e0"/><circle cx="250.9" cy="579.2" r="2.15" fill="#c0d6ec"/><circle cx="236.9" cy="582.8" r="2.15" fill="#d6e5f4"/><circle cx="155.5" cy="517.5" r="2.15" fill="#eef4fa"/><circle cx="143.0" cy="552.8" r="2.15" fill="#d6e5f4"/><circle cx="153.8" cy="508.4" r="2.15" fill="#eef4fa"/><circle cx="150.0" cy="510.6" r="2.15" fill="#eef4fa"/><circle cx="252.5" cy="556.1" r="2.15" fill="#a9c4e0"/><circle cx="252.3" cy="554.3" r="2.15" fill="#93afcc"/><circle cx="251.1" cy="527.4" r="2.15" fill="#c0d6ec"/><circle cx="239.3" cy="573.8" r="2.15" fill="#d6e5f4"/><circle cx="255.4" cy="562.7" r="2.15" fill="#787878"/><circle cx="140.3" cy="521.3" r="2.15" fill="#eef4fa"/><circle cx="242.3" cy="562.2" r="2.15" fill="#a9c4e0"/><circle cx="149.2" cy="525.4" r="2.15" fill="#eef4fa"/><circle cx="145.7" cy="525.5" r="2.15" fill="#eef4fa"/><circle cx="148.3" cy="531.8" r="2.15" fill="#8c9aa8"/><circle cx="157.8" cy="530.3" r="2.15" fill="#d9e7f4"/><circle cx="141.7" cy="539.1" r="2.15" fill="#eef4fa"/><circle cx="239.7" cy="487.6" r="2.15" fill="#bcd2e8"/><circle cx="254.0" cy="541.8" r="2.15" fill="#a9c4e0"/><circle cx="144.7" cy="511.1" r="2.15" fill="#eef4fa"/><circle cx="157.0" cy="504.9" r="2.15" fill="#eef4fa"/><circle cx="237.2" cy="545.7" r="2.15" fill="#c4d9ee"/><circle cx="249.1" cy="545.9" r="2.15" fill="#a9c4e0"/><circle cx="238.5" cy="564.5" r="2.15" fill="#a9c4e0"/><circle cx="241.8" cy="552.1" r="2.15" fill="#c4d9ee"/><circle cx="143.8" cy="505.1" r="2.15" fill="#d9e7f4"/><circle cx="250.3" cy="543.4" r="2.15" fill="#c4d9ee"/><circle cx="245.4" cy="562.4" r="2.15" fill="#a9c4e0"/><circle cx="252.5" cy="466.2" r="2.15" fill="#c9dbee"/><circle cx="152.0" cy="497.0" r="2.15" fill="#a8a8a8"/><circle cx="156.7" cy="552.8" r="2.15" fill="#a9c4e0"/><circle cx="148.6" cy="515.7" r="2.15" fill="#bcd1e6"/><circle cx="250.9" cy="602.6" r="2.15" fill="#c0d6ec"/><circle cx="243.6" cy="527.6" r="2.15" fill="#c0d6ec"/><circle cx="145.3" cy="550.1" r="2.15" fill="#eef4fa"/><circle cx="255.0" cy="548.0" r="2.15" fill="#a9c4e0"/><circle cx="141.8" cy="484.2" r="2.15" fill="#d6e5f4"/><circle cx="252.2" cy="554.3" r="2.15" fill="#c4d9ee"/><circle cx="144.2" cy="545.8" r="2.15" fill="#d9e7f4"/><circle cx="151.4" cy="514.8" r="2.15" fill="#eef4fa"/><circle cx="248.2" cy="560.2" r="2.15" fill="#a9c4e0"/><circle cx="236.0" cy="588.4" r="2.15" fill="#a9c4e0"/><circle cx="255.4" cy="512.8" r="2.15" fill="#d6e5f4"/><circle cx="144.2" cy="527.6" r="2.15" fill="#d9e7f4"/><circle cx="148.2" cy="523.3" r="2.15" fill="#eef4fa"/><circle cx="142.0" cy="506.3" r="2.15" fill="#eef4fa"/><circle cx="242.2" cy="547.9" r="2.15" fill="#93afcc"/><circle cx="150.6" cy="529.8" r="2.15" fill="#8c9aa8"/><circle cx="154.6" cy="497.0" r="2.15" fill="#c9dbee"/><circle cx="142.4" cy="568.0" r="2.15" fill="#a9c4e0"/><circle cx="148.5" cy="530.2" r="2.15" fill="#eef4fa"/><circle cx="149.0" cy="497.0" r="2.15" fill="#8a8a8a"/><circle cx="154.5" cy="528.2" r="2.15" fill="#eef4fa"/><circle cx="250.9" cy="507.2" r="2.15" fill="#c0d6ec"/><circle cx="147.8" cy="543.0" r="2.15" fill="#eef4fa"/><circle cx="146.0" cy="552.8" r="2.15" fill="#c0d6ec"/><circle cx="254.9" cy="539.3" r="2.15" fill="#93afcc"/><circle cx="157.4" cy="547.6" r="2.15" fill="#bcd1e6"/><circle cx="248.4" cy="564.4" r="2.15" fill="#93afcc"/><circle cx="155.5" cy="508.5" r="2.15" fill="#a6c0dc"/><circle cx="155.7" cy="546.2" r="2.15" fill="#eef4fa"/><circle cx="140.9" cy="525.3" r="2.15" fill="#d9e7f4"/><circle cx="145.8" cy="530.5" r="2.15" fill="#d9e7f4"/><circle cx="153.7" cy="472.6" r="2.15" fill="#c0d6ec"/><circle cx="139.7" cy="514.2" r="2.15" fill="#d9e7f4"/><circle cx="248.8" cy="560.7" r="2.15" fill="#93afcc"/><circle cx="145.6" cy="549.5" r="2.15" fill="#bcd1e6"/><circle cx="154.5" cy="539.5" r="2.15" fill="#d9e7f4"/><circle cx="156.8" cy="537.1" r="2.15" fill="#bcd1e6"/><circle cx="139.7" cy="469.0" r="2.15" fill="#c6d9ed"/><circle cx="144.8" cy="536.9" r="2.15" fill="#eef4fa"/><circle cx="140.6" cy="578.5" r="2.15" fill="#a9c4e0"/><circle cx="148.0" cy="535.7" r="2.15" fill="#eef4fa"/><circle cx="156.9" cy="546.1" r="2.15" fill="#bcd1e6"/><circle cx="148.8" cy="539.8" r="2.15" fill="#bcd1e6"/><circle cx="245.5" cy="487.6" r="2.15" fill="#c4d8ec"/><circle cx="151.0" cy="507.1" r="2.15" fill="#bcd1e6"/><circle cx="153.9" cy="534.0" r="2.15" fill="#d9e7f4"/><circle cx="145.5" cy="550.0" r="2.15" fill="#d9e7f4"/><circle cx="239.6" cy="523.9" r="2.15" fill="#d6e5f4"/><circle cx="246.5" cy="556.1" r="2.15" fill="#a9c4e0"/><circle cx="254.8" cy="573.8" r="2.15" fill="#8a96a2"/><circle cx="141.5" cy="469.0" r="2.15" fill="#c6d9ed"/><circle cx="148.6" cy="508.4" r="2.15" fill="#eef4fa"/><circle cx="152.0" cy="479.1" r="2.15" fill="#9a9a9a"/><circle cx="154.9" cy="549.5" r="2.15" fill="#bcd1e6"/><circle cx="243.2" cy="573.8" r="2.15" fill="#d6e5f4"/></g><polygon points="71,470.5 265.3,569.3 71,536.8" fill="#bccbdb" fill-opacity="0.75"/><path d="M71 470.5 L265.3 569.3" stroke="#000" stroke-width="1.5" fill="none"/><path d="M71 503.6 L265.3 569.3" stroke="#000" stroke-width="1.0" fill="none"/><path d="M71 536.8 L265.3 569.3" stroke="#000" stroke-width="1.5" fill="none"/><circle cx="265.3" cy="569.3" r="3.3" fill="#111"/><path d="M61.7 458.0 V609.3 H274.6" fill="none" stroke="#000" stroke-width="1.1"/><path d="M59.3 487.0 H61.7" stroke="#333" stroke-width="1"/><text x="57.2" y="490.0" text-anchor="end" font-size="8.5" fill="#4d4d4d">2.0</text><path d="M59.3 528.1 H61.7" stroke="#333" stroke-width="1"/><text x="57.2" y="531.1" text-anchor="end" font-size="8.5" fill="#4d4d4d">1.5</text><path d="M59.3 569.3 H61.7" stroke="#333" stroke-width="1"/><text x="57.2" y="572.3" text-anchor="end" font-size="8.5" fill="#4d4d4d">1.0</text><path d="M100 609.3 V611.7" stroke="#333" stroke-width="1"/><text x="100" y="620.3" text-anchor="middle" font-size="8.5" fill="#4d4d4d">5</text><path d="M148.4 609.3 V611.7" stroke="#333" stroke-width="1"/><text x="148.4" y="620.3" text-anchor="middle" font-size="8.5" fill="#4d4d4d">10</text><path d="M197.3 609.3 V611.7" stroke="#333" stroke-width="1"/><text x="197.3" y="620.3" text-anchor="middle" font-size="8.5" fill="#4d4d4d">15</text><path d="M245.7 609.3 V611.7" stroke="#333" stroke-width="1"/><text x="245.7" y="620.3" text-anchor="middle" font-size="8.5" fill="#4d4d4d">20</text><text x="167.9" y="631.7" text-anchor="middle" font-size="10.5" fill="#000">Ambient Temperature (°C)</text><rect x="71.05" y="649.9" width="14.7" height="18.3" fill="#a0b4c9" stroke="#262626" stroke-width="1.1"/><path d="M72.35 659.4 H85.25" stroke="#111" stroke-width="1.0"/><text font-size="6.6" fill="#1a1a1a"><tspan x="92" y="655.3">Mean Bill</tspan><tspan x="92" y="662.6">Length -</tspan><tspan x="92" y="669.9">1 SD (9mm)</tspan></text><rect x="133.75" y="649.8" width="14.5" height="18.4" fill="#e3ecf6" stroke="#262626" stroke-width="1.1"/><path d="M134.95 659.4 H147.05" stroke="#111" stroke-width="1.2" stroke-dasharray="4.1 3.9"/><text font-size="6.6" fill="#1a1a1a"><tspan x="154.8" y="659.0">Mean Bill</tspan><tspan x="154.8" y="666.3">Length (10mm)</tspan></text><rect x="205.75" y="649.6" width="14.2" height="18.4" fill="#ffffff" stroke="#262626" stroke-width="1.1"/><path d="M207.25 659.2 H219.95" stroke="#333" stroke-width="1.0" stroke-dasharray="1 2.8"/><text font-size="6.6" fill="#1a1a1a"><tspan x="226.9" y="655.3">Mean Bill</tspan><tspan x="226.9" y="662.6">Length +</tspan><tspan x="226.9" y="669.9">1 SD (10mm)</tspan></text><text x="289.4" y="24.0" font-size="19.5" fill="#000">D</text><path d="M336.6 239.1 L345 238.9 L350 238.6 L354.8 238.2 L358 237.2 L362 235.8 L367.9 232.7 L372 230.2 L376.3 227.9 L381 226.0 L385.9 225.1 L390.6 225.5 L395 227.2 L400.2 229.6 L406 231.9 L412.2 233.9 L419 235.7 L426.5 237 L433 237.8 L440.8 238.3 L455 238.7 L470 238.9 L487 239.0 L487 239.2 L336.6 239.2 Z" fill="#cfe1f3"/><path d="M336.6 239.2 L336.6 50 L336.7 17 L337.0 17.5 L337.3 50 L337.9 130 L338.2 170 L339.9 191.9 L341 202.9 L342.6 213.8 L344.8 224.8 L347 232.5 L349 235.3 L351.4 236.8 L354.7 238.5 L360 239.0 L380 239.1 L487 239.2 L487 239.2 Z" fill="#575151"/><path d="M336.6 50 L336.7 17 L337.0 17.5 L337.3 50 L337.9 130 L338.2 170 L339.9 191.9 L341 202.9 L342.6 213.8 L344.8 224.8 L347 232.5 L349 235.3 L351.4 236.8 L354.7 238.5 L360 239.0 L380 239.1 L487 239.2" fill="none" stroke="#111" stroke-width="1"/><path d="M336.6 239.1 L345 238.9 L350 238.6 L354.8 238.2 L358 237.2 L362 235.8 L367.9 232.7 L372 230.2 L376.3 227.9 L381 226.0 L385.9 225.1 L390.6 225.5 L395 227.2 L400.2 229.6 L406 231.9 L412.2 233.9 L419 235.7 L426.5 237 L433 237.8 L440.8 238.3 L455 238.7 L470 238.9 L487 239.0" fill="none" stroke="#111" stroke-width="1"/><path d="M328.7 6 V250 H495" fill="none" stroke="#2a2a2a" stroke-width="1.05"/><path d="M326.3 239.2 H328.6" stroke="#333" stroke-width="1"/><text x="324.7" y="241.5" text-anchor="end" font-size="7.5" fill="#4d4d4d">0</text><path d="M326.3 160.3 H328.6" stroke="#333" stroke-width="1"/><text x="324.7" y="162.6" text-anchor="end" font-size="7.5" fill="#4d4d4d">20</text><path d="M326.3 81.4 H328.6" stroke="#333" stroke-width="1"/><text x="324.7" y="83.7" text-anchor="end" font-size="7.5" fill="#4d4d4d">40</text><path d="M336.5 250 V252.3" stroke="#333" stroke-width="1"/><text x="336.5" y="259.8" text-anchor="middle" font-size="7.5" fill="#4d4d4d">0.00</text><path d="M374.1 250 V252.3" stroke="#333" stroke-width="1"/><text x="374.1" y="259.8" text-anchor="middle" font-size="7.5" fill="#4d4d4d">0.25</text><path d="M411.6 250 V252.3" stroke="#333" stroke-width="1"/><text x="411.6" y="259.8" text-anchor="middle" font-size="7.5" fill="#4d4d4d">0.50</text><path d="M449.2 250 V252.3" stroke="#333" stroke-width="1"/><text x="449.2" y="259.8" text-anchor="middle" font-size="7.5" fill="#4d4d4d">0.75</text><path d="M486.8 250 V252.3" stroke="#333" stroke-width="1"/><text x="486.8" y="259.8" text-anchor="middle" font-size="7.5" fill="#4d4d4d">1.00</text><text x="410.4" y="271.8" text-anchor="middle" font-size="11.8" fill="#000">Repeatability</text><text transform="translate(312.7,127.3) rotate(-90)" text-anchor="middle" font-size="11.8" fill="#000">Density</text><rect x="365" y="124" width="13.9" height="14.5" fill="#575151" stroke="#222" stroke-width="1"/><rect x="365" y="138.5" width="13.9" height="14.3" fill="#cfe1f3" stroke="#222" stroke-width="1"/><text x="382.9" y="135.6" font-size="11.8" fill="#111">Null Model</text><text x="382.9" y="151.0" font-size="11.8" fill="#111">True Model</text><text x="283.8" y="288.7" font-size="19.5" fill="#000" transform="translate(283.8,0) scale(1.08,1) translate(-283.8,0)">E</text><rect x="335.0" y="404.1" width="28.6" height="19.7" fill="#2f2f2f" stroke="#111" stroke-width="0.6"/><path d="M349.3 335.4 V404.1 M346.9 335.4 H351.7" stroke="#333" stroke-width="0.9" fill="none"/><rect x="368.1" y="418.8" width="28.6" height="5.1" fill="#2f2f2f" stroke="#111" stroke-width="0.6"/><path d="M382.4 348.1 V418.8 M380.0 348.1 H384.8" stroke="#333" stroke-width="0.9" fill="none"/><rect x="401.2" y="408.1" width="28.6" height="15.7" fill="#2f2f2f" stroke="#111" stroke-width="0.6"/><path d="M415.5 340.5 V408.1 M413.1 340.5 H417.9" stroke="#333" stroke-width="0.9" fill="none"/><rect x="434.3" y="416.7" width="28.6" height="7.1" fill="#2f2f2f" stroke="#111" stroke-width="0.6"/><path d="M448.6 349.3 V416.7 M446.2 349.3 H451.0" stroke="#333" stroke-width="0.9" fill="none"/><rect x="467.4" y="422.0" width="28.6" height="1.8" fill="#2f2f2f" stroke="#111" stroke-width="0.6"/><path d="M481.7 355.4 V422.0 M479.3 355.4 H484.1" stroke="#333" stroke-width="0.9" fill="none"/><path d="M329.5 398.6 H499.8" stroke="#222" stroke-width="0.9" stroke-dasharray="3.2 2.6"/><path d="M329.5 291.5 V429.7 H499.8" fill="none" stroke="#000" stroke-width="1.1"/><path d="M327.3 423.8 H329.5" stroke="#333" stroke-width="0.9"/><text x="325.8" y="426.0" text-anchor="end" font-size="6.6" fill="#4d4d4d">0.0</text><path d="M327.3 398.6 H329.5" stroke="#333" stroke-width="0.9"/><text x="325.8" y="400.8" text-anchor="end" font-size="6.6" fill="#4d4d4d">0.5</text><path d="M327.3 373.3 H329.5" stroke="#333" stroke-width="0.9"/><text x="325.8" y="375.5" text-anchor="end" font-size="6.6" fill="#4d4d4d">1.0</text><path d="M327.3 348.1 H329.5" stroke="#333" stroke-width="0.9"/><text x="325.8" y="350.2" text-anchor="end" font-size="6.6" fill="#4d4d4d">1.5</text><path d="M327.3 322.8 H329.5" stroke="#333" stroke-width="0.9"/><text x="325.8" y="325.0" text-anchor="end" font-size="6.6" fill="#4d4d4d">2.0</text><path d="M327.3 297.6 H329.5" stroke="#333" stroke-width="0.9"/><text x="325.8" y="299.8" text-anchor="end" font-size="6.6" fill="#4d4d4d">2.5</text><path d="M349.3 429.7 V431.9" stroke="#333" stroke-width="0.9"/><text transform="translate(348.74,453.54) rotate(-61)" text-anchor="middle" font-size="6.4" fill="#333"><tspan x="0" y="0">Cold Rearing</tspan><tspan x="0" y="7.7">(10°C)</tspan></text><path d="M382.4 429.7 V431.9" stroke="#333" stroke-width="0.9"/><text transform="translate(380.95,455.14) rotate(-61)" text-anchor="middle" font-size="6.4" fill="#333"><tspan x="0" y="0">Warm Rearing</tspan><tspan x="0" y="7.7">(30°C)</tspan></text><path d="M415.5 429.7 V431.9" stroke="#333" stroke-width="0.9"/><text transform="translate(414.25,454.79) rotate(-61)" text-anchor="middle" font-size="6.4" fill="#333"><tspan x="0" y="0">Body Mass</tspan><tspan x="0" y="7.7">(1×SD&gt;Mean)</tspan></text><path d="M448.6 429.7 V431.9" stroke="#333" stroke-width="0.9"/><text transform="translate(447.35,454.79) rotate(-61)" text-anchor="middle" font-size="6.4" fill="#333"><tspan x="0" y="0">Tarsus Length</tspan><tspan x="0" y="7.7">(1×SD&gt;Mean)</tspan></text><path d="M481.7 429.7 V431.9" stroke="#333" stroke-width="0.9"/><text transform="translate(480.45,454.79) rotate(-61)" text-anchor="middle" font-size="6.4" fill="#333"><tspan x="0" y="0">Bill Length</tspan><tspan x="0" y="7.7">(1×SD&gt;Mean)</tspan></text><text x="493.1" y="301.8" text-anchor="end" font-size="9.6" fill="#111">Juveniles</text><text transform="translate(311.0,359.7) rotate(-90)" text-anchor="middle" font-size="10.2" fill="#000">Effect Size (|Cohen's D|)</text><rect x="335.0" y="607.3" width="28.6" height="10.1" fill="#2f2f2f" stroke="#111" stroke-width="0.6"/><path d="M349.3 537.4 V607.3 M346.9 537.4 H351.7" stroke="#333" stroke-width="0.9" fill="none"/><rect x="368.1" y="609.8" width="28.6" height="7.6" fill="#2f2f2f" stroke="#111" stroke-width="0.6"/><path d="M382.4 539.4 V609.8 M380.0 539.4 H384.8" stroke="#333" stroke-width="0.9" fill="none"/><rect x="401.2" y="615.6" width="28.6" height="1.8" fill="#2f2f2f" stroke="#111" stroke-width="0.6"/><path d="M415.5 547.2 V615.6 M413.1 547.2 H417.9" stroke="#333" stroke-width="0.9" fill="none"/><rect x="434.3" y="615.6" width="28.6" height="1.8" fill="#2f2f2f" stroke="#111" stroke-width="0.6"/><path d="M448.6 546.4 V615.6 M446.2 546.4 H451.0" stroke="#333" stroke-width="0.9" fill="none"/><rect x="467.4" y="616.9" width="28.6" height="0.5" fill="#2f2f2f" stroke="#111" stroke-width="0.6"/><path d="M481.7 548.2 V616.9 M479.3 548.2 H484.1" stroke="#333" stroke-width="0.9" fill="none"/><path d="M329.5 592.1 H499.8" stroke="#222" stroke-width="0.9" stroke-dasharray="3.2 2.6"/><path d="M329.5 485.0 V623.3 H499.8" fill="none" stroke="#000" stroke-width="1.1"/><path d="M327.3 617.4 H329.5" stroke="#333" stroke-width="0.9"/><text x="325.8" y="619.6" text-anchor="end" font-size="6.6" fill="#4d4d4d">0.0</text><path d="M327.3 592.1 H329.5" stroke="#333" stroke-width="0.9"/><text x="325.8" y="594.4" text-anchor="end" font-size="6.6" fill="#4d4d4d">0.5</text><path d="M327.3 566.9 H329.5" stroke="#333" stroke-width="0.9"/><text x="325.8" y="569.1" text-anchor="end" font-size="6.6" fill="#4d4d4d">1.0</text><path d="M327.3 541.6 H329.5" stroke="#333" stroke-width="0.9"/><text x="325.8" y="543.9" text-anchor="end" font-size="6.6" fill="#4d4d4d">1.5</text><path d="M327.3 516.4 H329.5" stroke="#333" stroke-width="0.9"/><text x="325.8" y="518.6" text-anchor="end" font-size="6.6" fill="#4d4d4d">2.0</text><path d="M327.3 491.1 H329.5" stroke="#333" stroke-width="0.9"/><text x="325.8" y="493.3" text-anchor="end" font-size="6.6" fill="#4d4d4d">2.5</text><path d="M349.3 623.3 V625.5" stroke="#333" stroke-width="0.9"/><text transform="translate(348.74,647.14) rotate(-61)" text-anchor="middle" font-size="6.4" fill="#333"><tspan x="0" y="0">Cold Rearing</tspan><tspan x="0" y="7.7">(10°C)</tspan></text><path d="M382.4 623.3 V625.5" stroke="#333" stroke-width="0.9"/><text transform="translate(380.95,648.74) rotate(-61)" text-anchor="middle" font-size="6.4" fill="#333"><tspan x="0" y="0">Warm Rearing</tspan><tspan x="0" y="7.7">(30°C)</tspan></text><path d="M415.5 623.3 V625.5" stroke="#333" stroke-width="0.9"/><text transform="translate(414.25,648.39) rotate(-61)" text-anchor="middle" font-size="6.4" fill="#333"><tspan x="0" y="0">Body Mass</tspan><tspan x="0" y="7.7">(1×SD&gt;Mean)</tspan></text><path d="M448.6 623.3 V625.5" stroke="#333" stroke-width="0.9"/><text transform="translate(447.35,648.39) rotate(-61)" text-anchor="middle" font-size="6.4" fill="#333"><tspan x="0" y="0">Tarsus Length</tspan><tspan x="0" y="7.7">(1×SD&gt;Mean)</tspan></text><path d="M481.7 623.3 V625.5" stroke="#333" stroke-width="0.9"/><text transform="translate(480.45,648.39) rotate(-61)" text-anchor="middle" font-size="6.4" fill="#333"><tspan x="0" y="0">Bill Length</tspan><tspan x="0" y="7.7">(1×SD&gt;Mean)</tspan></text><text x="493.1" y="497.1" text-anchor="end" font-size="9.6" fill="#111">Adults</text><text transform="translate(311.0,551.0) rotate(-90)" text-anchor="middle" font-size="10.2" fill="#000">Effect Size (|Cohen's D|)</text>
</svg></body></html>
